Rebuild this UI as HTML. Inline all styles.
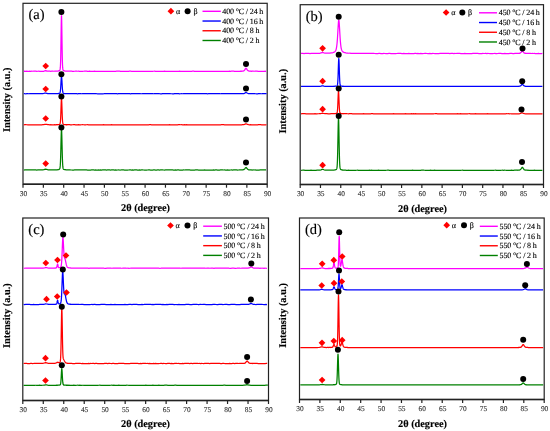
<!DOCTYPE html>
<html><head><meta charset="utf-8"><style>
html,body{margin:0;padding:0;background:#fff;}
svg{display:block;font-family:"Liberation Serif",serif;will-change:transform;}
text{text-rendering:geometricPrecision;}
</style></head><body>
<svg width="550" height="431" viewBox="0 0 550 431">
<rect width="550" height="431" fill="#fff"/>
<rect x="23" y="3.3" width="244.2" height="180.9" fill="none" stroke="#222" stroke-width="1.2"/>
<line x1="23" y1="184.2" x2="267.2" y2="184.2" stroke="#222" stroke-width="1.6"/>
<line x1="23" y1="184.2" x2="23" y2="187.7" stroke="#222" stroke-width="1.2"/>
<text x="23.4" y="195.8" font-size="7.4" text-anchor="middle" font-weight="normal" fill="#333" stroke="#333" stroke-width="0.12">30</text>
<line x1="43.35" y1="184.2" x2="43.35" y2="187.7" stroke="#222" stroke-width="1.2"/>
<text x="43.75" y="195.8" font-size="7.4" text-anchor="middle" font-weight="normal" fill="#333" stroke="#333" stroke-width="0.12">35</text>
<line x1="63.7" y1="184.2" x2="63.7" y2="187.7" stroke="#222" stroke-width="1.2"/>
<text x="64.1" y="195.8" font-size="7.4" text-anchor="middle" font-weight="normal" fill="#333" stroke="#333" stroke-width="0.12">40</text>
<line x1="84.05" y1="184.2" x2="84.05" y2="187.7" stroke="#222" stroke-width="1.2"/>
<text x="84.45" y="195.8" font-size="7.4" text-anchor="middle" font-weight="normal" fill="#333" stroke="#333" stroke-width="0.12">45</text>
<line x1="104.4" y1="184.2" x2="104.4" y2="187.7" stroke="#222" stroke-width="1.2"/>
<text x="104.8" y="195.8" font-size="7.4" text-anchor="middle" font-weight="normal" fill="#333" stroke="#333" stroke-width="0.12">50</text>
<line x1="124.75" y1="184.2" x2="124.75" y2="187.7" stroke="#222" stroke-width="1.2"/>
<text x="125.15" y="195.8" font-size="7.4" text-anchor="middle" font-weight="normal" fill="#333" stroke="#333" stroke-width="0.12">55</text>
<line x1="145.1" y1="184.2" x2="145.1" y2="187.7" stroke="#222" stroke-width="1.2"/>
<text x="145.5" y="195.8" font-size="7.4" text-anchor="middle" font-weight="normal" fill="#333" stroke="#333" stroke-width="0.12">60</text>
<line x1="165.45" y1="184.2" x2="165.45" y2="187.7" stroke="#222" stroke-width="1.2"/>
<text x="165.85" y="195.8" font-size="7.4" text-anchor="middle" font-weight="normal" fill="#333" stroke="#333" stroke-width="0.12">65</text>
<line x1="185.8" y1="184.2" x2="185.8" y2="187.7" stroke="#222" stroke-width="1.2"/>
<text x="186.2" y="195.8" font-size="7.4" text-anchor="middle" font-weight="normal" fill="#333" stroke="#333" stroke-width="0.12">70</text>
<line x1="206.15" y1="184.2" x2="206.15" y2="187.7" stroke="#222" stroke-width="1.2"/>
<text x="206.55" y="195.8" font-size="7.4" text-anchor="middle" font-weight="normal" fill="#333" stroke="#333" stroke-width="0.12">75</text>
<line x1="226.5" y1="184.2" x2="226.5" y2="187.7" stroke="#222" stroke-width="1.2"/>
<text x="226.9" y="195.8" font-size="7.4" text-anchor="middle" font-weight="normal" fill="#333" stroke="#333" stroke-width="0.12">80</text>
<line x1="246.85" y1="184.2" x2="246.85" y2="187.7" stroke="#222" stroke-width="1.2"/>
<text x="247.25" y="195.8" font-size="7.4" text-anchor="middle" font-weight="normal" fill="#333" stroke="#333" stroke-width="0.12">85</text>
<line x1="267.2" y1="184.2" x2="267.2" y2="187.7" stroke="#222" stroke-width="1.2"/>
<text x="267.6" y="195.8" font-size="7.4" text-anchor="middle" font-weight="normal" fill="#333" stroke="#333" stroke-width="0.12">90</text>
<text x="28.5" y="18.7" font-size="14.5" text-anchor="start" font-weight="normal" stroke="#000" stroke-width="0.15">(a)</text>
<path d="M170.9 7.85 L174.25 11.2 L170.9 14.55 L167.55 11.2Z" fill="#ff0000"/>
<text x="176" y="13.6" font-size="8" text-anchor="start" font-weight="normal" stroke="#000" stroke-width="0.12">α</text>
<circle cx="187.6" cy="11.2" r="3" fill="#000"/>
<text x="193.4" y="13.6" font-size="8" text-anchor="start" font-weight="normal" stroke="#000" stroke-width="0.12">β</text>
<line x1="202.5" y1="11.3" x2="220.8" y2="11.3" stroke="#ff00ff" stroke-width="1.4"/>
<text x="222.3" y="13.9" font-size="8" text-anchor="start" font-weight="normal" letter-spacing="-0.14" text-rendering="geometricPrecision" stroke="#000" stroke-width="0.12">400 °C / 24 h</text>
<line x1="202.5" y1="21.03" x2="220.8" y2="21.03" stroke="#0000ff" stroke-width="1.4"/>
<text x="222.3" y="23.63" font-size="8" text-anchor="start" font-weight="normal" letter-spacing="-0.14" text-rendering="geometricPrecision" stroke="#000" stroke-width="0.12">400 °C / 16 h</text>
<line x1="202.5" y1="30.76" x2="220.8" y2="30.76" stroke="#ff0000" stroke-width="1.4"/>
<text x="222.3" y="33.36" font-size="8" text-anchor="start" font-weight="normal" letter-spacing="-0.14" text-rendering="geometricPrecision" stroke="#000" stroke-width="0.12">400 °C / 8 h</text>
<line x1="202.5" y1="40.49" x2="220.8" y2="40.49" stroke="#008000" stroke-width="1.4"/>
<text x="222.3" y="43.09" font-size="8" text-anchor="start" font-weight="normal" letter-spacing="-0.14" text-rendering="geometricPrecision" stroke="#000" stroke-width="0.12">400 °C / 2 h</text>
<text x="9.8" y="99.8" font-size="10.35" font-weight="bold" stroke="#000" stroke-width="0.15" text-anchor="middle" transform="rotate(-90 9.8 99.8)">Intensity (a.u.)</text>
<text x="145.5" y="210.5" font-size="10.3" text-anchor="middle" font-weight="bold" stroke="#000" stroke-width="0.15">2θ (degree)</text>
<path d="M23.8 71.28 L24.8 71.24 L25.8 71.29 L26.8 71.24 L27.8 71.27 L28.8 71.27 L29.8 71.23 L30.8 71.26 L31.8 71.22 L32.8 71.25 L33.8 71.22 L34.8 71.21 L35.8 71.24 L36.8 71.3 L37.8 71.25 L38.8 71.24 L39.8 71.27 L40.8 71.33 L41.8 71.31 L42.8 71.26 L43.8 71.26 L44.8 70.87 L45.8 70.65 L46.8 71.05 L47.8 71.18 L48.8 71.18 L49.8 71.2 L50.8 71.27 L51.8 71.22 L52.8 71.24 L53.8 71.25 L54.8 71.22 L55.8 71.2 L55.92 71.14 L56.04 71.11 L56.16 71.11 L56.28 71.16 L56.4 71.16 L56.52 71.14 L56.64 71.16 L56.76 71.15 L56.88 71.12 L57 71.16 L57.12 71.16 L57.24 71.11 L57.36 71.11 L57.48 71.1 L57.6 71.13 L57.72 71.13 L57.84 71.06 L57.96 71.1 L58.08 71.01 L58.2 70.99 L58.32 71.01 L58.44 70.93 L58.56 70.92 L58.68 70.84 L58.8 70.86 L58.92 70.85 L59.04 70.81 L59.16 70.79 L59.28 70.68 L59.4 70.63 L59.52 70.54 L59.64 70.44 L59.76 70.29 L59.88 70.13 L60 69.88 L60.12 69.36 L60.24 68.57 L60.36 67.17 L60.48 65.08 L60.6 61.82 L60.72 57.19 L60.84 50.97 L60.96 43.31 L61.08 34.86 L61.2 26.58 L61.32 19.69 L61.44 15.79 L61.56 15.76 L61.68 19.67 L61.8 26.48 L61.92 34.85 L62.04 43.25 L62.16 50.85 L62.28 57.08 L62.4 61.83 L62.52 65.03 L62.64 67.18 L62.76 68.53 L62.88 69.37 L63 69.86 L63.12 70.17 L63.24 70.29 L63.36 70.41 L63.48 70.5 L63.6 70.64 L63.72 70.75 L63.84 70.73 L63.96 70.74 L64.08 70.78 L64.2 70.81 L64.32 70.87 L64.44 70.93 L64.56 70.93 L64.68 70.91 L64.8 70.96 L64.92 70.99 L65.04 71.03 L65.16 71.11 L65.28 71.12 L65.4 71.11 L65.52 71.13 L65.64 71.15 L65.76 71.09 L65.88 71.16 L66 71.19 L66.12 71.22 L66.24 71.23 L66.36 71.18 L66.48 71.17 L66.6 71.13 L66.72 71.17 L66.84 71.13 L66.96 71.11 L67.08 71.12 L67.2 71.12 L67.32 71.15 L67.44 71.12 L67.56 71.11 L68.56 71.14 L69.56 71.16 L70.56 71.2 L71.56 71.18 L72.56 71.27 L73.56 71.29 L74.56 71.25 L75.56 71.24 L76.56 71.24 L77.56 71.25 L78.56 71.22 L79.56 71.3 L80.56 71.35 L81.56 71.32 L82.56 71.3 L83.56 71.25 L84.56 71.22 L85.56 71.24 L86.56 71.24 L87.56 71.31 L88.56 71.26 L89.56 71.22 L90.56 71.31 L91.56 71.31 L92.56 71.26 L93.56 71.28 L94.56 71.23 L95.56 71.27 L96.56 71.34 L97.56 71.36 L98.56 71.35 L99.56 71.3 L100.56 71.28 L101.56 71.25 L102.56 71.31 L103.56 71.31 L104.56 71.34 L105.56 71.3 L106.56 71.26 L107.56 71.32 L108.56 71.37 L109.56 71.37 L110.56 71.37 L111.56 71.37 L112.56 71.37 L113.56 71.3 L114.56 71.3 L115.56 71.28 L116.56 71.23 L117.56 71.21 L118.56 71.23 L119.56 71.23 L120.56 71.29 L121.56 71.35 L122.56 71.32 L123.56 71.36 L124.56 71.39 L125.56 71.4 L126.56 71.33 L127.56 71.28 L128.56 71.26 L129.56 71.24 L130.56 71.24 L131.56 71.28 L132.56 71.34 L133.56 71.36 L134.56 71.33 L135.56 71.33 L136.56 71.35 L137.56 71.28 L138.56 71.31 L139.56 71.35 L140.56 71.36 L141.56 71.36 L142.56 71.33 L143.56 71.27 L144.56 71.32 L145.56 71.29 L146.56 71.33 L147.56 71.37 L148.56 71.32 L149.56 71.3 L150.56 71.35 L151.56 71.35 L152.56 71.29 L153.56 71.25 L154.56 71.23 L155.56 71.31 L156.56 71.34 L157.56 71.28 L158.56 71.33 L159.56 71.37 L160.56 71.35 L161.56 71.31 L162.56 71.31 L163.56 71.26 L164.56 71.22 L165.56 71.32 L166.56 71.33 L167.56 71.32 L168.56 71.36 L169.56 71.32 L170.56 71.36 L171.56 71.37 L172.56 71.3 L173.56 71.27 L174.56 71.26 L175.56 71.25 L176.56 71.28 L177.56 71.26 L178.56 71.27 L179.56 71.24 L180.56 71.32 L181.56 71.29 L182.56 71.29 L183.56 71.3 L184.56 71.35 L185.56 71.32 L186.56 71.36 L187.56 71.33 L188.56 71.32 L189.56 71.31 L190.56 71.25 L191.56 71.27 L192.56 71.24 L193.56 71.21 L194.56 71.29 L195.56 71.26 L196.56 71.27 L197.56 71.31 L198.56 71.31 L199.56 71.28 L200.56 71.29 L201.56 71.3 L202.56 71.33 L203.56 71.27 L204.56 71.29 L205.56 71.26 L206.56 71.25 L207.56 71.31 L208.56 71.3 L209.56 71.31 L210.56 71.33 L211.56 71.37 L212.56 71.32 L213.56 71.32 L214.56 71.31 L215.56 71.31 L216.56 71.32 L217.56 71.31 L218.56 71.3 L219.56 71.3 L220.56 71.35 L221.56 71.35 L222.56 71.37 L223.56 71.38 L224.56 71.31 L225.56 71.31 L226.56 71.35 L227.56 71.36 L228.56 71.28 L229.56 71.24 L230.56 71.26 L231.56 71.22 L232.56 71.22 L233.56 71.2 L234.56 71.26 L235.56 71.3 L236.56 71.34 L237.56 71.26 L238.56 71.28 L239.56 71.28 L240.56 71.2 L240.68 71.26 L240.8 71.3 L240.92 71.22 L241.04 71.27 L241.16 71.23 L241.28 71.22 L241.4 71.27 L241.52 71.27 L241.64 71.19 L241.76 71.18 L241.88 71.18 L242 71.15 L242.12 71.12 L242.24 71.11 L242.36 71.15 L242.48 71.08 L242.6 71.11 L242.72 71.1 L242.84 71.03 L242.96 71.03 L243.08 71.05 L243.2 71.03 L243.32 70.95 L243.44 71 L243.56 70.97 L243.68 70.95 L243.8 70.8 L243.92 70.71 L244.04 70.58 L244.16 70.56 L244.28 70.42 L244.4 70.26 L244.52 70.14 L244.64 70.06 L244.76 69.91 L244.88 69.68 L245 69.44 L245.12 69.32 L245.24 69.12 L245.36 68.94 L245.48 68.69 L245.6 68.49 L245.72 68.42 L245.84 68.33 L245.96 68.24 L246.08 68.33 L246.2 68.4 L246.32 68.52 L246.44 68.59 L246.56 68.81 L246.68 68.93 L246.8 69.18 L246.92 69.36 L247.04 69.54 L247.16 69.74 L247.28 69.97 L247.4 70.08 L247.52 70.18 L247.64 70.35 L247.76 70.44 L247.88 70.52 L248 70.61 L248.12 70.67 L248.24 70.75 L248.36 70.83 L248.48 70.88 L248.6 70.98 L248.72 70.99 L248.84 71.03 L248.96 71.02 L249.08 71.05 L249.2 71.03 L249.32 71.05 L249.44 71.04 L249.56 71.13 L249.68 71.15 L249.8 71.12 L249.92 71.15 L250.04 71.22 L250.16 71.16 L250.28 71.22 L250.4 71.2 L250.52 71.2 L250.64 71.25 L250.76 71.22 L250.88 71.22 L251 71.24 L251.12 71.29 L251.24 71.24 L251.36 71.28 L251.48 71.28 L251.6 71.27 L251.72 71.25 L251.84 71.23 L251.96 71.18 L252.08 71.17 L253.08 71.17 L254.08 71.25 L255.08 71.24 L256.08 71.22 L257.08 71.2 L258.08 71.29 L259.08 71.33 L260.08 71.33 L261.08 71.29 L262.08 71.26 L263.08 71.25 L264.08 71.27 L265.08 71.24 L266.08 71.26" fill="none" stroke="#ff00ff" stroke-width="1.25" stroke-linejoin="round"/>
<path d="M23.8 93.67 L24.8 93.74 L25.8 93.77 L26.8 93.74 L27.8 93.69 L28.8 93.75 L29.8 93.7 L30.8 93.68 L31.8 93.63 L32.8 93.65 L33.8 93.67 L34.8 93.68 L35.8 93.65 L36.8 93.67 L37.8 93.62 L38.8 93.62 L39.8 93.6 L40.8 93.62 L41.8 93.58 L42.8 93.52 L43.8 93.43 L44.8 93.23 L45.8 93.18 L46.8 93.37 L47.8 93.58 L48.8 93.67 L49.8 93.7 L50.8 93.73 L51.8 93.69 L52.8 93.66 L53.8 93.72 L54.8 93.64 L55.8 93.67 L55.92 93.67 L56.04 93.6 L56.16 93.66 L56.28 93.7 L56.4 93.68 L56.52 93.68 L56.64 93.69 L56.76 93.62 L56.88 93.62 L57 93.62 L57.12 93.66 L57.24 93.67 L57.36 93.68 L57.48 93.65 L57.6 93.67 L57.72 93.65 L57.84 93.64 L57.96 93.57 L58.08 93.51 L58.2 93.49 L58.32 93.5 L58.44 93.47 L58.56 93.53 L58.68 93.52 L58.8 93.52 L58.92 93.51 L59.04 93.5 L59.16 93.45 L59.28 93.36 L59.4 93.38 L59.52 93.35 L59.64 93.27 L59.76 93.16 L59.88 93.01 L60 92.7 L60.12 92.38 L60.24 91.8 L60.36 90.98 L60.48 89.93 L60.6 88.61 L60.72 86.88 L60.84 84.96 L60.96 82.86 L61.08 80.66 L61.2 78.67 L61.32 77.14 L61.44 76.33 L61.56 76.35 L61.68 77.18 L61.8 78.7 L61.92 80.6 L62.04 82.74 L62.16 84.89 L62.28 86.92 L62.4 88.59 L62.52 89.99 L62.64 90.99 L62.76 91.74 L62.88 92.3 L63 92.73 L63.12 93 L63.24 93.17 L63.36 93.24 L63.48 93.32 L63.6 93.37 L63.72 93.4 L63.84 93.39 L63.96 93.48 L64.08 93.46 L64.2 93.55 L64.32 93.59 L64.44 93.51 L64.56 93.53 L64.68 93.58 L64.8 93.64 L64.92 93.6 L65.04 93.57 L65.16 93.55 L65.28 93.63 L65.4 93.58 L65.52 93.61 L65.64 93.57 L65.76 93.6 L65.88 93.67 L66 93.6 L66.12 93.66 L66.24 93.65 L66.36 93.69 L66.48 93.69 L66.6 93.63 L66.72 93.69 L66.84 93.67 L66.96 93.6 L67.08 93.57 L67.2 93.61 L67.32 93.63 L67.44 93.62 L67.56 93.6 L68.56 93.62 L69.56 93.63 L70.56 93.7 L71.56 93.63 L72.56 93.69 L73.56 93.73 L74.56 93.67 L75.56 93.73 L76.56 93.74 L77.56 93.76 L78.56 93.7 L79.56 93.68 L80.56 93.68 L81.56 93.75 L82.56 93.73 L83.56 93.7 L84.56 93.69 L85.56 93.67 L86.56 93.63 L87.56 93.61 L88.56 93.7 L89.56 93.67 L90.56 93.74 L91.56 93.69 L92.56 93.66 L93.56 93.68 L94.56 93.65 L95.56 93.66 L96.56 93.73 L97.56 93.76 L98.56 93.77 L99.56 93.75 L100.56 93.77 L101.56 93.79 L102.56 93.75 L103.56 93.75 L104.56 93.67 L105.56 93.71 L106.56 93.7 L107.56 93.73 L108.56 93.73 L109.56 93.69 L110.56 93.64 L111.56 93.72 L112.56 93.67 L113.56 93.68 L114.56 93.67 L115.56 93.66 L116.56 93.71 L117.56 93.76 L118.56 93.7 L119.56 93.72 L120.56 93.69 L121.56 93.7 L122.56 93.69 L123.56 93.65 L124.56 93.64 L125.56 93.63 L126.56 93.71 L127.56 93.71 L128.56 93.67 L129.56 93.73 L130.56 93.78 L131.56 93.73 L132.56 93.67 L133.56 93.65 L134.56 93.63 L135.56 93.64 L136.56 93.62 L137.56 93.63 L138.56 93.64 L139.56 93.68 L140.56 93.73 L141.56 93.75 L142.56 93.71 L143.56 93.7 L144.56 93.7 L145.56 93.69 L146.56 93.67 L147.56 93.63 L148.56 93.64 L149.56 93.73 L150.56 93.67 L151.56 93.68 L152.56 93.71 L153.56 93.75 L154.56 93.69 L155.56 93.67 L156.56 93.65 L157.56 93.66 L158.56 93.68 L159.56 93.74 L160.56 93.76 L161.56 93.78 L162.56 93.68 L163.56 93.63 L164.56 93.69 L165.56 93.74 L166.56 93.72 L167.56 93.72 L168.56 93.65 L169.56 93.66 L170.56 93.73 L171.56 93.75 L172.56 93.77 L173.56 93.79 L174.56 93.72 L175.56 93.66 L176.56 93.64 L177.56 93.67 L178.56 93.71 L179.56 93.76 L180.56 93.75 L181.56 93.74 L182.56 93.75 L183.56 93.72 L184.56 93.72 L185.56 93.65 L186.56 93.71 L187.56 93.67 L188.56 93.74 L189.56 93.74 L190.56 93.69 L191.56 93.65 L192.56 93.65 L193.56 93.69 L194.56 93.72 L195.56 93.66 L196.56 93.63 L197.56 93.67 L198.56 93.69 L199.56 93.68 L200.56 93.66 L201.56 93.69 L202.56 93.64 L203.56 93.64 L204.56 93.67 L205.56 93.74 L206.56 93.74 L207.56 93.76 L208.56 93.73 L209.56 93.68 L210.56 93.66 L211.56 93.73 L212.56 93.74 L213.56 93.7 L214.56 93.64 L215.56 93.67 L216.56 93.71 L217.56 93.69 L218.56 93.67 L219.56 93.7 L220.56 93.75 L221.56 93.69 L222.56 93.64 L223.56 93.65 L224.56 93.66 L225.56 93.7 L226.56 93.66 L227.56 93.72 L228.56 93.74 L229.56 93.72 L230.56 93.67 L231.56 93.74 L232.56 93.69 L233.56 93.73 L234.56 93.68 L235.56 93.65 L236.56 93.7 L237.56 93.67 L238.56 93.73 L239.56 93.7 L240.56 93.65 L241.56 93.61 L242.56 93.6 L243.56 93.55 L244.56 93.29 L245.56 92.61 L246.56 92.67 L247.56 93.25 L248.56 93.6 L249.56 93.61 L250.56 93.59 L251.56 93.59 L252.56 93.62 L253.56 93.71 L254.56 93.74 L255.56 93.75 L256.56 93.78 L257.56 93.79 L258.56 93.72 L259.56 93.67 L260.56 93.74 L261.56 93.75 L262.56 93.67 L263.56 93.7 L264.56 93.68 L265.56 93.68 L266.56 93.67" fill="none" stroke="#0000ff" stroke-width="1.25" stroke-linejoin="round"/>
<path d="M23.8 124.76 L24.8 124.72 L25.8 124.73 L26.8 124.75 L27.8 124.83 L28.8 124.77 L29.8 124.84 L30.8 124.78 L31.8 124.77 L32.8 124.82 L33.8 124.85 L34.8 124.81 L35.8 124.75 L36.8 124.76 L37.8 124.76 L38.8 124.82 L39.8 124.76 L40.8 124.75 L41.8 124.79 L42.8 124.68 L43.8 124.57 L44.8 124.42 L45.8 124.34 L46.8 124.44 L47.8 124.58 L48.8 124.64 L49.8 124.76 L50.8 124.74 L51.8 124.78 L52.8 124.82 L53.8 124.77 L54.8 124.73 L55.8 124.78 L55.92 124.77 L56.04 124.72 L56.16 124.75 L56.28 124.72 L56.4 124.69 L56.52 124.65 L56.64 124.71 L56.76 124.76 L56.88 124.75 L57 124.78 L57.12 124.68 L57.24 124.65 L57.36 124.66 L57.48 124.73 L57.6 124.75 L57.72 124.69 L57.84 124.64 L57.96 124.63 L58.08 124.63 L58.2 124.68 L58.32 124.6 L58.44 124.63 L58.56 124.63 L58.68 124.63 L58.8 124.61 L58.92 124.57 L59.04 124.51 L59.16 124.45 L59.28 124.41 L59.4 124.42 L59.52 124.31 L59.64 124.22 L59.76 124.19 L59.88 124.01 L60 123.74 L60.12 123.35 L60.24 122.82 L60.36 121.93 L60.48 120.69 L60.6 118.89 L60.72 116.51 L60.84 113.47 L60.96 110.02 L61.08 106.43 L61.2 103.11 L61.32 100.49 L61.44 98.99 L61.56 98.96 L61.68 100.46 L61.8 103.15 L61.92 106.52 L62.04 110.1 L62.16 113.52 L62.28 116.47 L62.4 118.81 L62.52 120.69 L62.64 121.96 L62.76 122.86 L62.88 123.43 L63 123.83 L63.12 124.01 L63.24 124.14 L63.36 124.23 L63.48 124.28 L63.6 124.41 L63.72 124.46 L63.84 124.46 L63.96 124.49 L64.08 124.58 L64.2 124.58 L64.32 124.55 L64.44 124.62 L64.56 124.64 L64.68 124.69 L64.8 124.62 L64.92 124.64 L65.04 124.69 L65.16 124.72 L65.28 124.75 L65.4 124.66 L65.52 124.65 L65.64 124.63 L65.76 124.63 L65.88 124.73 L66 124.73 L66.12 124.77 L66.24 124.73 L66.36 124.77 L66.48 124.74 L66.6 124.71 L66.72 124.75 L66.84 124.8 L66.96 124.72 L67.08 124.74 L67.2 124.76 L67.32 124.72 L67.44 124.72 L67.56 124.69 L68.56 124.7 L69.56 124.71 L70.56 124.76 L71.56 124.79 L72.56 124.75 L73.56 124.71 L74.56 124.73 L75.56 124.78 L76.56 124.75 L77.56 124.75 L78.56 124.74 L79.56 124.8 L80.56 124.8 L81.56 124.75 L82.56 124.72 L83.56 124.75 L84.56 124.78 L85.56 124.8 L86.56 124.75 L87.56 124.73 L88.56 124.79 L89.56 124.78 L90.56 124.76 L91.56 124.76 L92.56 124.83 L93.56 124.79 L94.56 124.8 L95.56 124.78 L96.56 124.78 L97.56 124.83 L98.56 124.88 L99.56 124.82 L100.56 124.77 L101.56 124.81 L102.56 124.77 L103.56 124.73 L104.56 124.81 L105.56 124.8 L106.56 124.84 L107.56 124.81 L108.56 124.85 L109.56 124.82 L110.56 124.77 L111.56 124.73 L112.56 124.77 L113.56 124.8 L114.56 124.85 L115.56 124.77 L116.56 124.8 L117.56 124.79 L118.56 124.79 L119.56 124.75 L120.56 124.75 L121.56 124.78 L122.56 124.84 L123.56 124.77 L124.56 124.78 L125.56 124.83 L126.56 124.87 L127.56 124.8 L128.56 124.75 L129.56 124.83 L130.56 124.87 L131.56 124.83 L132.56 124.76 L133.56 124.83 L134.56 124.8 L135.56 124.85 L136.56 124.84 L137.56 124.86 L138.56 124.79 L139.56 124.83 L140.56 124.78 L141.56 124.78 L142.56 124.83 L143.56 124.85 L144.56 124.79 L145.56 124.76 L146.56 124.77 L147.56 124.79 L148.56 124.78 L149.56 124.74 L150.56 124.74 L151.56 124.8 L152.56 124.85 L153.56 124.77 L154.56 124.79 L155.56 124.83 L156.56 124.76 L157.56 124.82 L158.56 124.76 L159.56 124.79 L160.56 124.8 L161.56 124.82 L162.56 124.78 L163.56 124.78 L164.56 124.8 L165.56 124.79 L166.56 124.81 L167.56 124.8 L168.56 124.79 L169.56 124.74 L170.56 124.78 L171.56 124.79 L172.56 124.76 L173.56 124.81 L174.56 124.84 L175.56 124.81 L176.56 124.77 L177.56 124.78 L178.56 124.74 L179.56 124.73 L180.56 124.75 L181.56 124.73 L182.56 124.76 L183.56 124.78 L184.56 124.73 L185.56 124.78 L186.56 124.74 L187.56 124.8 L188.56 124.83 L189.56 124.82 L190.56 124.76 L191.56 124.78 L192.56 124.77 L193.56 124.84 L194.56 124.78 L195.56 124.83 L196.56 124.87 L197.56 124.87 L198.56 124.87 L199.56 124.8 L200.56 124.86 L201.56 124.83 L202.56 124.87 L203.56 124.88 L204.56 124.8 L205.56 124.84 L206.56 124.87 L207.56 124.78 L208.56 124.77 L209.56 124.82 L210.56 124.77 L211.56 124.83 L212.56 124.79 L213.56 124.83 L214.56 124.77 L215.56 124.79 L216.56 124.84 L217.56 124.79 L218.56 124.76 L219.56 124.78 L220.56 124.77 L221.56 124.73 L222.56 124.73 L223.56 124.72 L224.56 124.81 L225.56 124.83 L226.56 124.86 L227.56 124.79 L228.56 124.83 L229.56 124.77 L230.56 124.78 L231.56 124.81 L232.56 124.78 L233.56 124.83 L234.56 124.82 L235.56 124.82 L236.56 124.85 L237.56 124.77 L238.56 124.84 L239.56 124.82 L240.56 124.78 L241.56 124.81 L242.56 124.74 L243.56 124.73 L244.56 124.45 L245.56 123.91 L246.56 123.99 L247.56 124.47 L248.56 124.65 L249.56 124.76 L250.56 124.72 L251.56 124.79 L252.56 124.76 L253.56 124.79 L254.56 124.85 L255.56 124.83 L256.56 124.83 L257.56 124.79 L258.56 124.73 L259.56 124.71 L260.56 124.71 L261.56 124.77 L262.56 124.77 L263.56 124.79 L264.56 124.84 L265.56 124.78 L266.56 124.75" fill="none" stroke="#ff0000" stroke-width="1.25" stroke-linejoin="round"/>
<path d="M23.8 170.01 L24.8 169.95 L25.8 169.91 L26.8 169.94 L27.8 169.92 L28.8 169.94 L29.8 169.93 L30.8 169.97 L31.8 169.99 L32.8 169.96 L33.8 169.99 L34.8 169.98 L35.8 169.94 L36.8 170.01 L37.8 169.96 L38.8 169.92 L39.8 169.89 L40.8 169.94 L41.8 169.97 L42.8 169.92 L43.8 169.69 L44.8 169.33 L45.8 169.13 L46.8 169.47 L47.8 169.76 L48.8 169.87 L49.8 169.94 L50.8 169.94 L51.8 169.99 L52.8 169.99 L53.8 169.92 L54.8 169.96 L55.8 169.85 L55.92 169.87 L56.04 169.86 L56.16 169.83 L56.28 169.79 L56.4 169.86 L56.52 169.79 L56.64 169.82 L56.76 169.88 L56.88 169.81 L57 169.78 L57.12 169.8 L57.24 169.8 L57.36 169.81 L57.48 169.83 L57.6 169.75 L57.72 169.72 L57.84 169.7 L57.96 169.65 L58.08 169.71 L58.2 169.72 L58.32 169.71 L58.44 169.6 L58.56 169.63 L58.68 169.61 L58.8 169.55 L58.92 169.53 L59.04 169.46 L59.16 169.37 L59.28 169.26 L59.4 169.18 L59.52 169.04 L59.64 168.89 L59.76 168.71 L59.88 168.37 L60 167.83 L60.12 166.97 L60.24 165.66 L60.36 163.87 L60.48 161.41 L60.6 158.27 L60.72 154.33 L60.84 149.73 L60.96 144.78 L61.08 139.82 L61.2 135.2 L61.32 131.73 L61.44 129.71 L61.56 129.7 L61.68 131.63 L61.8 135.21 L61.92 139.82 L62.04 144.83 L62.16 149.75 L62.28 154.36 L62.4 158.24 L62.52 161.39 L62.64 163.9 L62.76 165.7 L62.88 166.96 L63 167.82 L63.12 168.42 L63.24 168.75 L63.36 169.02 L63.48 169.18 L63.6 169.31 L63.72 169.35 L63.84 169.44 L63.96 169.48 L64.08 169.49 L64.2 169.5 L64.32 169.57 L64.44 169.56 L64.56 169.66 L64.68 169.63 L64.8 169.61 L64.92 169.62 L65.04 169.74 L65.16 169.73 L65.28 169.71 L65.4 169.69 L65.52 169.69 L65.64 169.77 L65.76 169.81 L65.88 169.84 L66 169.87 L66.12 169.8 L66.24 169.84 L66.36 169.83 L66.48 169.89 L66.6 169.92 L66.72 169.94 L66.84 169.86 L66.96 169.92 L67.08 169.95 L67.2 169.98 L67.32 169.89 L67.44 169.86 L67.56 169.84 L68.56 169.84 L69.56 169.94 L70.56 169.99 L71.56 170 L72.56 170.03 L73.56 170.02 L74.56 169.97 L75.56 169.93 L76.56 169.91 L77.56 169.98 L78.56 169.95 L79.56 169.95 L80.56 169.96 L81.56 169.92 L82.56 169.93 L83.56 169.93 L84.56 169.99 L85.56 169.98 L86.56 169.96 L87.56 170.03 L88.56 170.02 L89.56 170.05 L90.56 170.04 L91.56 169.96 L92.56 169.97 L93.56 169.97 L94.56 170.02 L95.56 169.99 L96.56 170.02 L97.56 170.01 L98.56 169.97 L99.56 170.03 L100.56 169.96 L101.56 170.02 L102.56 169.97 L103.56 169.92 L104.56 169.92 L105.56 169.99 L106.56 170.05 L107.56 169.97 L108.56 169.98 L109.56 169.99 L110.56 170.03 L111.56 169.98 L112.56 169.99 L113.56 169.97 L114.56 170.03 L115.56 169.98 L116.56 170.04 L117.56 170 L118.56 169.96 L119.56 170 L120.56 170 L121.56 169.95 L122.56 169.99 L123.56 169.95 L124.56 170.01 L125.56 170.03 L126.56 170.05 L127.56 170.04 L128.56 170 L129.56 169.99 L130.56 169.98 L131.56 170.04 L132.56 169.97 L133.56 170.03 L134.56 169.96 L135.56 169.94 L136.56 169.94 L137.56 170.02 L138.56 170.01 L139.56 169.99 L140.56 170.04 L141.56 169.99 L142.56 169.99 L143.56 170 L144.56 170.03 L145.56 170.04 L146.56 170.04 L147.56 170 L148.56 169.98 L149.56 169.95 L150.56 170.01 L151.56 170.03 L152.56 170.04 L153.56 169.98 L154.56 169.98 L155.56 170.02 L156.56 170.02 L157.56 169.97 L158.56 169.98 L159.56 170.03 L160.56 169.99 L161.56 169.96 L162.56 169.95 L163.56 170 L164.56 170.04 L165.56 169.98 L166.56 169.95 L167.56 169.94 L168.56 169.95 L169.56 169.98 L170.56 169.95 L171.56 169.95 L172.56 169.94 L173.56 170.03 L174.56 170.04 L175.56 169.97 L176.56 170.04 L177.56 169.97 L178.56 169.97 L179.56 170.04 L180.56 170.06 L181.56 170.06 L182.56 170.02 L183.56 169.97 L184.56 170 L185.56 169.95 L186.56 169.94 L187.56 169.96 L188.56 169.92 L189.56 169.95 L190.56 170.01 L191.56 170.03 L192.56 170.01 L193.56 170.02 L194.56 170.01 L195.56 169.96 L196.56 169.99 L197.56 169.98 L198.56 170.02 L199.56 170.06 L200.56 170.02 L201.56 170.02 L202.56 170.04 L203.56 170.01 L204.56 169.97 L205.56 170.01 L206.56 170.05 L207.56 170.06 L208.56 170.05 L209.56 170.07 L210.56 170.05 L211.56 170.04 L212.56 170.02 L213.56 169.98 L214.56 170.01 L215.56 169.95 L216.56 169.97 L217.56 170.02 L218.56 170.03 L219.56 170.03 L220.56 169.98 L221.56 169.98 L222.56 169.98 L223.56 170 L224.56 169.99 L225.56 170.01 L226.56 170.06 L227.56 169.99 L228.56 170.01 L229.56 170.03 L230.56 170 L231.56 169.99 L232.56 170.05 L233.56 169.96 L234.56 169.98 L235.56 169.94 L236.56 169.99 L237.56 170.03 L238.56 170 L239.56 169.93 L240.56 169.93 L240.68 169.94 L240.8 169.96 L240.92 169.95 L241.04 169.95 L241.16 169.98 L241.28 169.95 L241.4 169.92 L241.52 169.97 L241.64 169.9 L241.76 169.93 L241.88 169.9 L242 169.93 L242.12 169.86 L242.24 169.93 L242.36 169.88 L242.48 169.82 L242.6 169.8 L242.72 169.81 L242.84 169.75 L242.96 169.77 L243.08 169.76 L243.2 169.78 L243.32 169.74 L243.44 169.69 L243.56 169.63 L243.68 169.65 L243.8 169.65 L243.92 169.56 L244.04 169.44 L244.16 169.41 L244.28 169.29 L244.4 169.15 L244.52 169.01 L244.64 168.94 L244.76 168.84 L244.88 168.68 L245 168.5 L245.12 168.34 L245.24 168.14 L245.36 168.04 L245.48 167.85 L245.6 167.74 L245.72 167.66 L245.84 167.6 L245.96 167.53 L246.08 167.5 L246.2 167.56 L246.32 167.6 L246.44 167.78 L246.56 167.89 L246.68 168.09 L246.8 168.21 L246.92 168.36 L247.04 168.5 L247.16 168.67 L247.28 168.8 L247.4 168.9 L247.52 169.09 L247.64 169.19 L247.76 169.27 L247.88 169.36 L248 169.46 L248.12 169.53 L248.24 169.62 L248.36 169.68 L248.48 169.69 L248.6 169.78 L248.72 169.83 L248.84 169.77 L248.96 169.83 L249.08 169.89 L249.2 169.9 L249.32 169.84 L249.44 169.89 L249.56 169.9 L249.68 169.84 L249.8 169.81 L249.92 169.91 L250.04 169.92 L250.16 169.89 L250.28 169.85 L250.4 169.84 L250.52 169.85 L250.64 169.92 L250.76 169.91 L250.88 169.88 L251 169.95 L251.12 169.98 L251.24 169.92 L251.36 169.98 L251.48 169.98 L251.6 169.99 L251.72 169.99 L251.84 170.02 L251.96 170.02 L252.08 170.03 L253.08 169.97 L254.08 170 L255.08 169.99 L256.08 170.02 L257.08 170 L258.08 170.04 L259.08 170.02 L260.08 169.98 L261.08 169.95 L262.08 169.93 L263.08 169.96 L264.08 169.93 L265.08 169.96 L266.08 169.93" fill="none" stroke="#008000" stroke-width="1.25" stroke-linejoin="round"/>
<path d="M45.7 62.65 L49.05 66 L45.7 69.35 L42.35 66Z" fill="#ff0000"/>
<path d="M45.7 85.65 L49.05 89 L45.7 92.35 L42.35 89Z" fill="#ff0000"/>
<path d="M45.7 115.15 L49.05 118.5 L45.7 121.85 L42.35 118.5Z" fill="#ff0000"/>
<path d="M45.7 160.25 L49.05 163.6 L45.7 166.95 L42.35 163.6Z" fill="#ff0000"/>
<circle cx="61.4" cy="12" r="3" fill="#000"/>
<circle cx="61.4" cy="74.3" r="3" fill="#000"/>
<circle cx="61.4" cy="96.5" r="3" fill="#000"/>
<circle cx="61.4" cy="127.4" r="3" fill="#000"/>
<circle cx="246" cy="64" r="3" fill="#000"/>
<circle cx="246" cy="88.5" r="3" fill="#000"/>
<circle cx="246" cy="119.5" r="3" fill="#000"/>
<circle cx="246" cy="162.5" r="3" fill="#000"/>
<rect x="300.2" y="4.7" width="243.3" height="179.8" fill="none" stroke="#222" stroke-width="1.2"/>
<line x1="300.2" y1="184.5" x2="543.5" y2="184.5" stroke="#222" stroke-width="1.6"/>
<line x1="300.2" y1="184.5" x2="300.2" y2="188" stroke="#222" stroke-width="1.2"/>
<text x="300.6" y="196.3" font-size="7.4" text-anchor="middle" font-weight="normal" fill="#333" stroke="#333" stroke-width="0.12">30</text>
<line x1="320.47" y1="184.5" x2="320.47" y2="188" stroke="#222" stroke-width="1.2"/>
<text x="320.87" y="196.3" font-size="7.4" text-anchor="middle" font-weight="normal" fill="#333" stroke="#333" stroke-width="0.12">35</text>
<line x1="340.75" y1="184.5" x2="340.75" y2="188" stroke="#222" stroke-width="1.2"/>
<text x="341.15" y="196.3" font-size="7.4" text-anchor="middle" font-weight="normal" fill="#333" stroke="#333" stroke-width="0.12">40</text>
<line x1="361.02" y1="184.5" x2="361.02" y2="188" stroke="#222" stroke-width="1.2"/>
<text x="361.42" y="196.3" font-size="7.4" text-anchor="middle" font-weight="normal" fill="#333" stroke="#333" stroke-width="0.12">45</text>
<line x1="381.3" y1="184.5" x2="381.3" y2="188" stroke="#222" stroke-width="1.2"/>
<text x="381.7" y="196.3" font-size="7.4" text-anchor="middle" font-weight="normal" fill="#333" stroke="#333" stroke-width="0.12">50</text>
<line x1="401.57" y1="184.5" x2="401.57" y2="188" stroke="#222" stroke-width="1.2"/>
<text x="401.97" y="196.3" font-size="7.4" text-anchor="middle" font-weight="normal" fill="#333" stroke="#333" stroke-width="0.12">55</text>
<line x1="421.85" y1="184.5" x2="421.85" y2="188" stroke="#222" stroke-width="1.2"/>
<text x="422.25" y="196.3" font-size="7.4" text-anchor="middle" font-weight="normal" fill="#333" stroke="#333" stroke-width="0.12">60</text>
<line x1="442.12" y1="184.5" x2="442.12" y2="188" stroke="#222" stroke-width="1.2"/>
<text x="442.52" y="196.3" font-size="7.4" text-anchor="middle" font-weight="normal" fill="#333" stroke="#333" stroke-width="0.12">65</text>
<line x1="462.4" y1="184.5" x2="462.4" y2="188" stroke="#222" stroke-width="1.2"/>
<text x="462.8" y="196.3" font-size="7.4" text-anchor="middle" font-weight="normal" fill="#333" stroke="#333" stroke-width="0.12">70</text>
<line x1="482.68" y1="184.5" x2="482.68" y2="188" stroke="#222" stroke-width="1.2"/>
<text x="483.07" y="196.3" font-size="7.4" text-anchor="middle" font-weight="normal" fill="#333" stroke="#333" stroke-width="0.12">75</text>
<line x1="502.95" y1="184.5" x2="502.95" y2="188" stroke="#222" stroke-width="1.2"/>
<text x="503.35" y="196.3" font-size="7.4" text-anchor="middle" font-weight="normal" fill="#333" stroke="#333" stroke-width="0.12">80</text>
<line x1="523.23" y1="184.5" x2="523.23" y2="188" stroke="#222" stroke-width="1.2"/>
<text x="523.62" y="196.3" font-size="7.4" text-anchor="middle" font-weight="normal" fill="#333" stroke="#333" stroke-width="0.12">85</text>
<line x1="543.5" y1="184.5" x2="543.5" y2="188" stroke="#222" stroke-width="1.2"/>
<text x="543.9" y="196.3" font-size="7.4" text-anchor="middle" font-weight="normal" fill="#333" stroke="#333" stroke-width="0.12">90</text>
<text x="305.7" y="21.3" font-size="14.5" text-anchor="start" font-weight="normal" stroke="#000" stroke-width="0.15">(b)</text>
<path d="M446.1 9.15 L449.45 12.5 L446.1 15.85 L442.75 12.5Z" fill="#ff0000"/>
<text x="451.2" y="14.9" font-size="8" text-anchor="start" font-weight="normal" stroke="#000" stroke-width="0.12">α</text>
<circle cx="462.3" cy="12.5" r="3" fill="#000"/>
<text x="468.1" y="14.9" font-size="8" text-anchor="start" font-weight="normal" stroke="#000" stroke-width="0.12">β</text>
<line x1="479" y1="12.8" x2="497" y2="12.8" stroke="#ff00ff" stroke-width="1.4"/>
<text x="498.8" y="15.4" font-size="8" text-anchor="start" font-weight="normal" letter-spacing="-0.14" text-rendering="geometricPrecision" stroke="#000" stroke-width="0.12">450 °C / 24 h</text>
<line x1="479" y1="22.53" x2="497" y2="22.53" stroke="#0000ff" stroke-width="1.4"/>
<text x="498.8" y="25.13" font-size="8" text-anchor="start" font-weight="normal" letter-spacing="-0.14" text-rendering="geometricPrecision" stroke="#000" stroke-width="0.12">450 °C / 16 h</text>
<line x1="479" y1="32.26" x2="497" y2="32.26" stroke="#ff0000" stroke-width="1.4"/>
<text x="498.8" y="34.86" font-size="8" text-anchor="start" font-weight="normal" letter-spacing="-0.14" text-rendering="geometricPrecision" stroke="#000" stroke-width="0.12">450 °C / 8 h</text>
<line x1="479" y1="41.99" x2="497" y2="41.99" stroke="#008000" stroke-width="1.4"/>
<text x="498.8" y="44.59" font-size="8" text-anchor="start" font-weight="normal" letter-spacing="-0.14" text-rendering="geometricPrecision" stroke="#000" stroke-width="0.12">450 °C / 2 h</text>
<text x="286.1" y="101.2" font-size="10.35" font-weight="bold" stroke="#000" stroke-width="0.15" text-anchor="middle" transform="rotate(-90 286.1 101.2)">Intensity (a.u.)</text>
<text x="422.5" y="211.5" font-size="10.3" text-anchor="middle" font-weight="bold" stroke="#000" stroke-width="0.15">2θ (degree)</text>
<path d="M301 53.47 L302 53.47 L303 53.48 L304 53.52 L305 53.43 L306 53.49 L307 53.47 L308 53.47 L309 53.48 L310 53.51 L311 53.46 L312 53.44 L313 53.49 L314 53.41 L315 53.43 L316 53.43 L317 53.35 L318 53.37 L319 53.35 L320 53.27 L321 52.91 L322 52.54 L323 52.49 L324 52.87 L325 53.19 L326 53.19 L327 53.24 L328 53.22 L329 53.14 L330 53.12 L331 52.98 L332 52.83 L333 52.6 L333.12 52.6 L333.24 52.51 L333.36 52.47 L333.48 52.42 L333.6 52.39 L333.72 52.38 L333.84 52.28 L333.96 52.27 L334.08 52.18 L334.2 52.11 L334.32 52.01 L334.44 51.95 L334.56 51.93 L334.68 51.84 L334.8 51.75 L334.92 51.59 L335.04 51.45 L335.16 51.3 L335.28 51.18 L335.4 51.03 L335.52 50.87 L335.64 50.58 L335.76 50.37 L335.88 50.13 L336 49.77 L336.12 49.31 L336.24 48.85 L336.36 48.28 L336.48 47.66 L336.6 47.04 L336.72 46.21 L336.84 45.27 L336.96 44.21 L337.08 43.01 L337.2 41.62 L337.32 40.09 L337.44 38.43 L337.56 36.63 L337.68 34.7 L337.8 32.68 L337.92 30.54 L338.04 28.46 L338.16 26.4 L338.28 24.51 L338.4 22.75 L338.52 21.36 L338.64 20.39 L338.76 20.02 L338.88 20.16 L339 20.77 L339.12 21.83 L339.24 23.36 L339.36 25.15 L339.48 27.11 L339.6 29.14 L339.72 31.22 L339.84 33.3 L339.96 35.29 L340.08 37.18 L340.2 38.97 L340.32 40.63 L340.44 42.02 L340.56 43.36 L340.68 44.48 L340.8 45.5 L340.92 46.49 L341.04 47.29 L341.16 48.02 L341.28 48.57 L341.4 49.01 L341.52 49.45 L341.64 49.85 L341.76 50.23 L341.88 50.54 L342 50.73 L342.12 50.91 L342.24 51.04 L342.36 51.24 L342.48 51.35 L342.6 51.45 L342.72 51.54 L342.84 51.63 L342.96 51.8 L343.08 51.85 L343.2 52.02 L343.32 52.03 L343.44 52.16 L343.56 52.17 L343.68 52.19 L343.8 52.3 L343.92 52.33 L344.04 52.43 L344.16 52.43 L344.28 52.43 L344.4 52.54 L344.52 52.61 L344.64 52.67 L344.76 52.71 L344.88 52.66 L345.88 52.89 L346.88 53.06 L347.88 53.13 L348.88 53.25 L349.88 53.24 L350.88 53.34 L351.88 53.37 L352.88 53.31 L353.88 53.29 L354.88 53.36 L355.88 53.42 L356.88 53.37 L357.88 53.37 L358.88 53.43 L359.88 53.39 L360.88 53.46 L361.88 53.45 L362.88 53.4 L363.88 53.41 L364.88 53.44 L365.88 53.44 L366.88 53.47 L367.88 53.43 L368.88 53.48 L369.88 53.46 L370.88 53.48 L371.88 53.49 L372.88 53.47 L373.88 53.46 L374.88 53.5 L375.88 53.54 L376.88 53.55 L377.88 53.52 L378.88 53.48 L379.88 53.43 L380.88 53.51 L381.88 53.52 L382.88 53.54 L383.88 53.49 L384.88 53.5 L385.88 53.55 L386.88 53.56 L387.88 53.54 L388.88 53.49 L389.88 53.48 L390.88 53.53 L391.88 53.5 L392.88 53.51 L393.88 53.51 L394.88 53.55 L395.88 53.56 L396.88 53.5 L397.88 53.43 L398.88 53.43 L399.88 53.45 L400.88 53.48 L401.88 53.53 L402.88 53.56 L403.88 53.47 L404.88 53.52 L405.88 53.54 L406.88 53.56 L407.88 53.54 L408.88 53.49 L409.88 53.53 L410.88 53.55 L411.88 53.54 L412.88 53.57 L413.88 53.51 L414.88 53.45 L415.88 53.48 L416.88 53.52 L417.88 53.47 L418.88 53.51 L419.88 53.56 L420.88 53.49 L421.88 53.51 L422.88 53.52 L423.88 53.5 L424.88 53.47 L425.88 53.45 L426.88 53.5 L427.88 53.53 L428.88 53.51 L429.88 53.45 L430.88 53.51 L431.88 53.54 L432.88 53.48 L433.88 53.5 L434.88 53.55 L435.88 53.57 L436.88 53.53 L437.88 53.51 L438.88 53.52 L439.88 53.47 L440.88 53.45 L441.88 53.43 L442.88 53.49 L443.88 53.48 L444.88 53.49 L445.88 53.48 L446.88 53.49 L447.88 53.45 L448.88 53.42 L449.88 53.52 L450.88 53.49 L451.88 53.45 L452.88 53.49 L453.88 53.53 L454.88 53.47 L455.88 53.5 L456.88 53.48 L457.88 53.49 L458.88 53.44 L459.88 53.41 L460.88 53.51 L461.88 53.55 L462.88 53.52 L463.88 53.52 L464.88 53.48 L465.88 53.52 L466.88 53.5 L467.88 53.55 L468.88 53.56 L469.88 53.57 L470.88 53.59 L471.88 53.51 L472.88 53.45 L473.88 53.44 L474.88 53.43 L475.88 53.41 L476.88 53.4 L477.88 53.46 L478.88 53.52 L479.88 53.5 L480.88 53.55 L481.88 53.58 L482.88 53.48 L483.88 53.5 L484.88 53.49 L485.88 53.45 L486.88 53.53 L487.88 53.48 L488.88 53.5 L489.88 53.51 L490.88 53.56 L491.88 53.55 L492.88 53.51 L493.88 53.5 L494.88 53.46 L495.88 53.53 L496.88 53.57 L497.88 53.5 L498.88 53.44 L499.88 53.44 L500.88 53.45 L501.88 53.52 L502.88 53.56 L503.88 53.56 L504.88 53.47 L505.88 53.52 L506.88 53.53 L507.88 53.53 L508.88 53.57 L509.88 53.47 L510.88 53.44 L511.88 53.49 L512.88 53.53 L513.88 53.52 L514.88 53.47 L515.88 53.47 L516.88 53.48 L517 53.41 L517.12 53.4 L517.24 53.39 L517.36 53.36 L517.48 53.39 L517.6 53.36 L517.72 53.36 L517.84 53.34 L517.96 53.39 L518.08 53.34 L518.2 53.39 L518.32 53.35 L518.44 53.31 L518.56 53.39 L518.68 53.35 L518.8 53.4 L518.92 53.42 L519.04 53.42 L519.16 53.32 L519.28 53.3 L519.4 53.24 L519.52 53.3 L519.64 53.3 L519.76 53.26 L519.88 53.19 L520 53.12 L520.12 53.11 L520.24 53.03 L520.36 52.97 L520.48 52.83 L520.6 52.72 L520.72 52.59 L520.84 52.53 L520.96 52.42 L521.08 52.23 L521.2 52.14 L521.32 51.95 L521.44 51.78 L521.56 51.58 L521.68 51.42 L521.8 51.34 L521.92 51.18 L522.04 51.05 L522.16 51 L522.28 50.97 L522.4 51.05 L522.52 51.04 L522.64 51.2 L522.76 51.25 L522.88 51.45 L523 51.61 L523.12 51.73 L523.24 51.9 L523.36 52.04 L523.48 52.18 L523.6 52.31 L523.72 52.46 L523.84 52.66 L523.96 52.82 L524.08 52.93 L524.2 52.92 L524.32 52.97 L524.44 53.1 L524.56 53.08 L524.68 53.17 L524.8 53.18 L524.92 53.28 L525.04 53.23 L525.16 53.31 L525.28 53.3 L525.4 53.28 L525.52 53.25 L525.64 53.35 L525.76 53.36 L525.88 53.33 L526 53.35 L526.12 53.42 L526.24 53.38 L526.36 53.4 L526.48 53.36 L526.6 53.35 L526.72 53.42 L526.84 53.44 L526.96 53.4 L527.08 53.36 L527.2 53.35 L527.32 53.4 L527.44 53.42 L527.56 53.4 L527.68 53.39 L527.8 53.43 L527.92 53.46 L528.04 53.49 L528.16 53.48 L528.28 53.43 L528.4 53.39 L529.4 53.46 L530.4 53.46 L531.4 53.5 L532.4 53.44 L533.4 53.5 L534.4 53.48 L535.4 53.52 L536.4 53.55 L537.4 53.52 L538.4 53.45 L539.4 53.52 L540.4 53.5 L541.4 53.54 L542.4 53.49" fill="none" stroke="#ff00ff" stroke-width="1.25" stroke-linejoin="round"/>
<path d="M301 86.36 L302 86.42 L303 86.39 L304 86.35 L305 86.36 L306 86.39 L307 86.33 L308 86.37 L309 86.37 L310 86.38 L311 86.34 L312 86.39 L313 86.43 L314 86.45 L315 86.39 L316 86.41 L317 86.38 L318 86.4 L319 86.3 L320 86.3 L321 86.16 L322 85.88 L323 85.86 L324 86.1 L325 86.28 L326 86.28 L327 86.38 L328 86.34 L329 86.32 L330 86.29 L331 86.29 L332 86.35 L333 86.28 L333.12 86.26 L333.24 86.32 L333.36 86.28 L333.48 86.24 L333.6 86.29 L333.72 86.31 L333.84 86.31 L333.96 86.33 L334.08 86.27 L334.2 86.33 L334.32 86.34 L334.44 86.26 L334.56 86.22 L334.68 86.25 L334.8 86.26 L334.92 86.23 L335.04 86.19 L335.16 86.21 L335.28 86.17 L335.4 86.21 L335.52 86.25 L335.64 86.18 L335.76 86.18 L335.88 86.2 L336 86.12 L336.12 86.15 L336.24 86.17 L336.36 86.1 L336.48 86.04 L336.6 86.05 L336.72 85.98 L336.84 85.9 L336.96 85.88 L337.08 85.77 L337.2 85.55 L337.32 85.25 L337.44 84.82 L337.56 84.15 L337.68 83.19 L337.8 81.71 L337.92 79.66 L338.04 76.96 L338.16 73.68 L338.28 69.88 L338.4 66.05 L338.52 62.59 L338.64 59.92 L338.76 58.5 L338.88 58.76 L339 60.63 L339.12 63.64 L339.24 67.33 L339.36 71.11 L339.48 74.72 L339.6 77.83 L339.72 80.27 L339.84 82.13 L339.96 83.56 L340.08 84.48 L340.2 85.09 L340.32 85.43 L340.44 85.67 L340.56 85.84 L340.68 85.94 L340.8 85.91 L340.92 85.99 L341.04 86 L341.16 86.07 L341.28 86.07 L341.4 86.11 L341.52 86.19 L341.64 86.2 L341.76 86.17 L341.88 86.19 L342 86.2 L342.12 86.27 L342.24 86.23 L342.36 86.22 L342.48 86.26 L342.6 86.22 L342.72 86.26 L342.84 86.33 L342.96 86.31 L343.08 86.28 L343.2 86.28 L343.32 86.3 L343.44 86.26 L343.56 86.24 L343.68 86.24 L343.8 86.26 L343.92 86.28 L344.04 86.28 L344.16 86.27 L344.28 86.26 L344.4 86.3 L344.52 86.36 L344.64 86.37 L344.76 86.36 L344.88 86.37 L345.88 86.34 L346.88 86.38 L347.88 86.38 L348.88 86.39 L349.88 86.4 L350.88 86.39 L351.88 86.37 L352.88 86.35 L353.88 86.34 L354.88 86.37 L355.88 86.37 L356.88 86.39 L357.88 86.33 L358.88 86.35 L359.88 86.41 L360.88 86.37 L361.88 86.39 L362.88 86.39 L363.88 86.37 L364.88 86.44 L365.88 86.39 L366.88 86.43 L367.88 86.37 L368.88 86.33 L369.88 86.41 L370.88 86.4 L371.88 86.34 L372.88 86.36 L373.88 86.37 L374.88 86.41 L375.88 86.36 L376.88 86.35 L377.88 86.43 L378.88 86.44 L379.88 86.38 L380.88 86.37 L381.88 86.37 L382.88 86.4 L383.88 86.42 L384.88 86.45 L385.88 86.46 L386.88 86.43 L387.88 86.44 L388.88 86.45 L389.88 86.46 L390.88 86.42 L391.88 86.45 L392.88 86.45 L393.88 86.47 L394.88 86.39 L395.88 86.44 L396.88 86.36 L397.88 86.41 L398.88 86.42 L399.88 86.41 L400.88 86.46 L401.88 86.44 L402.88 86.41 L403.88 86.44 L404.88 86.46 L405.88 86.44 L406.88 86.41 L407.88 86.4 L408.88 86.39 L409.88 86.42 L410.88 86.39 L411.88 86.38 L412.88 86.4 L413.88 86.38 L414.88 86.37 L415.88 86.42 L416.88 86.45 L417.88 86.43 L418.88 86.41 L419.88 86.36 L420.88 86.36 L421.88 86.34 L422.88 86.38 L423.88 86.4 L424.88 86.35 L425.88 86.42 L426.88 86.39 L427.88 86.44 L428.88 86.46 L429.88 86.48 L430.88 86.41 L431.88 86.39 L432.88 86.45 L433.88 86.36 L434.88 86.33 L435.88 86.37 L436.88 86.39 L437.88 86.44 L438.88 86.45 L439.88 86.43 L440.88 86.48 L441.88 86.44 L442.88 86.42 L443.88 86.43 L444.88 86.4 L445.88 86.38 L446.88 86.4 L447.88 86.38 L448.88 86.45 L449.88 86.44 L450.88 86.42 L451.88 86.36 L452.88 86.37 L453.88 86.37 L454.88 86.39 L455.88 86.4 L456.88 86.45 L457.88 86.48 L458.88 86.44 L459.88 86.41 L460.88 86.42 L461.88 86.47 L462.88 86.42 L463.88 86.41 L464.88 86.44 L465.88 86.38 L466.88 86.37 L467.88 86.44 L468.88 86.46 L469.88 86.43 L470.88 86.37 L471.88 86.43 L472.88 86.44 L473.88 86.46 L474.88 86.49 L475.88 86.49 L476.88 86.43 L477.88 86.38 L478.88 86.36 L479.88 86.38 L480.88 86.39 L481.88 86.36 L482.88 86.34 L483.88 86.39 L484.88 86.4 L485.88 86.38 L486.88 86.45 L487.88 86.44 L488.88 86.36 L489.88 86.37 L490.88 86.42 L491.88 86.39 L492.88 86.41 L493.88 86.35 L494.88 86.35 L495.88 86.41 L496.88 86.42 L497.88 86.43 L498.88 86.38 L499.88 86.39 L500.88 86.4 L501.88 86.37 L502.88 86.4 L503.88 86.4 L504.88 86.46 L505.88 86.43 L506.88 86.4 L507.88 86.35 L508.88 86.33 L509.88 86.39 L510.88 86.34 L511.88 86.32 L512.88 86.31 L513.88 86.35 L514.88 86.4 L515.88 86.39 L516.88 86.4 L517 86.32 L517.12 86.28 L517.24 86.34 L517.36 86.32 L517.48 86.36 L517.6 86.33 L517.72 86.29 L517.84 86.28 L517.96 86.26 L518.08 86.34 L518.2 86.34 L518.32 86.31 L518.44 86.3 L518.56 86.29 L518.68 86.24 L518.8 86.31 L518.92 86.3 L519.04 86.34 L519.16 86.29 L519.28 86.28 L519.4 86.22 L519.52 86.16 L519.64 86.22 L519.76 86.23 L519.88 86.15 L520 86.16 L520.12 86.13 L520.24 86.02 L520.36 85.98 L520.48 85.96 L520.6 85.85 L520.72 85.8 L520.84 85.64 L520.96 85.52 L521.08 85.44 L521.2 85.27 L521.32 85.14 L521.44 85.07 L521.56 84.92 L521.68 84.82 L521.8 84.65 L521.92 84.51 L522.04 84.44 L522.16 84.37 L522.28 84.43 L522.4 84.4 L522.52 84.46 L522.64 84.48 L522.76 84.61 L522.88 84.72 L523 84.84 L523.12 84.93 L523.24 85.05 L523.36 85.26 L523.48 85.36 L523.6 85.46 L523.72 85.55 L523.84 85.65 L523.96 85.73 L524.08 85.78 L524.2 85.92 L524.32 85.97 L524.44 85.99 L524.56 86.09 L524.68 86.08 L524.8 86.11 L524.92 86.2 L525.04 86.17 L525.16 86.21 L525.28 86.27 L525.4 86.31 L525.52 86.26 L525.64 86.26 L525.76 86.3 L525.88 86.29 L526 86.35 L526.12 86.3 L526.24 86.36 L526.36 86.34 L526.48 86.3 L526.6 86.31 L526.72 86.28 L526.84 86.33 L526.96 86.31 L527.08 86.37 L527.2 86.37 L527.32 86.34 L527.44 86.32 L527.56 86.35 L527.68 86.32 L527.8 86.38 L527.92 86.32 L528.04 86.34 L528.16 86.36 L528.28 86.33 L528.4 86.38 L529.4 86.37 L530.4 86.4 L531.4 86.4 L532.4 86.37 L533.4 86.37 L534.4 86.33 L535.4 86.32 L536.4 86.4 L537.4 86.38 L538.4 86.41 L539.4 86.35 L540.4 86.38 L541.4 86.37 L542.4 86.38" fill="none" stroke="#0000ff" stroke-width="1.25" stroke-linejoin="round"/>
<path d="M301 113.77 L302 113.73 L303 113.74 L304 113.74 L305 113.72 L306 113.78 L307 113.76 L308 113.77 L309 113.83 L310 113.84 L311 113.86 L312 113.87 L313 113.79 L314 113.76 L315 113.71 L316 113.77 L317 113.79 L318 113.75 L319 113.73 L320 113.68 L321 113.52 L322 113.23 L323 113.28 L324 113.49 L325 113.68 L326 113.71 L327 113.7 L328 113.78 L329 113.8 L330 113.81 L331 113.73 L332 113.68 L333 113.66 L333.12 113.66 L333.24 113.68 L333.36 113.69 L333.48 113.65 L333.6 113.67 L333.72 113.71 L333.84 113.68 L333.96 113.74 L334.08 113.73 L334.2 113.74 L334.32 113.69 L334.44 113.69 L334.56 113.71 L334.68 113.68 L334.8 113.62 L334.92 113.68 L335.04 113.7 L335.16 113.65 L335.28 113.59 L335.4 113.65 L335.52 113.64 L335.64 113.56 L335.76 113.54 L335.88 113.5 L336 113.55 L336.12 113.49 L336.24 113.53 L336.36 113.51 L336.48 113.4 L336.6 113.38 L336.72 113.29 L336.84 113.21 L336.96 113.07 L337.08 112.74 L337.2 112.26 L337.32 111.67 L337.44 110.64 L337.56 109.26 L337.68 107.35 L337.8 104.94 L337.92 102.12 L338.04 99.04 L338.16 96 L338.28 93.39 L338.4 91.76 L338.52 91.31 L338.64 92.19 L338.76 94.26 L338.88 96.94 L339 100.04 L339.12 102.99 L339.24 105.74 L339.36 108.03 L339.48 109.73 L339.6 111.01 L339.72 111.95 L339.84 112.52 L339.96 112.88 L340.08 113.07 L340.2 113.17 L340.32 113.28 L340.44 113.36 L340.56 113.39 L340.68 113.43 L340.8 113.44 L340.92 113.53 L341.04 113.58 L341.16 113.56 L341.28 113.56 L341.4 113.59 L341.52 113.61 L341.64 113.68 L341.76 113.65 L341.88 113.64 L342 113.7 L342.12 113.65 L342.24 113.68 L342.36 113.67 L342.48 113.72 L342.6 113.72 L342.72 113.75 L342.84 113.69 L342.96 113.73 L343.08 113.74 L343.2 113.73 L343.32 113.76 L343.44 113.79 L343.56 113.72 L343.68 113.7 L343.8 113.71 L343.92 113.69 L344.04 113.67 L344.16 113.68 L344.28 113.68 L344.4 113.74 L344.52 113.74 L345.52 113.71 L346.52 113.73 L347.52 113.75 L348.52 113.75 L349.52 113.73 L350.52 113.71 L351.52 113.69 L352.52 113.8 L353.52 113.83 L354.52 113.76 L355.52 113.8 L356.52 113.86 L357.52 113.83 L358.52 113.77 L359.52 113.78 L360.52 113.78 L361.52 113.75 L362.52 113.78 L363.52 113.73 L364.52 113.81 L365.52 113.82 L366.52 113.83 L367.52 113.86 L368.52 113.85 L369.52 113.79 L370.52 113.77 L371.52 113.74 L372.52 113.71 L373.52 113.79 L374.52 113.83 L375.52 113.79 L376.52 113.76 L377.52 113.79 L378.52 113.84 L379.52 113.87 L380.52 113.79 L381.52 113.83 L382.52 113.85 L383.52 113.86 L384.52 113.81 L385.52 113.77 L386.52 113.82 L387.52 113.79 L388.52 113.78 L389.52 113.79 L390.52 113.78 L391.52 113.83 L392.52 113.78 L393.52 113.74 L394.52 113.78 L395.52 113.8 L396.52 113.84 L397.52 113.84 L398.52 113.87 L399.52 113.89 L400.52 113.84 L401.52 113.82 L402.52 113.77 L403.52 113.76 L404.52 113.79 L405.52 113.74 L406.52 113.79 L407.52 113.76 L408.52 113.77 L409.52 113.84 L410.52 113.77 L411.52 113.73 L412.52 113.76 L413.52 113.74 L414.52 113.8 L415.52 113.74 L416.52 113.81 L417.52 113.85 L418.52 113.86 L419.52 113.82 L420.52 113.78 L421.52 113.81 L422.52 113.81 L423.52 113.79 L424.52 113.78 L425.52 113.78 L426.52 113.81 L427.52 113.84 L428.52 113.87 L429.52 113.79 L430.52 113.77 L431.52 113.78 L432.52 113.8 L433.52 113.78 L434.52 113.75 L435.52 113.73 L436.52 113.74 L437.52 113.77 L438.52 113.84 L439.52 113.87 L440.52 113.88 L441.52 113.9 L442.52 113.9 L443.52 113.87 L444.52 113.87 L445.52 113.78 L446.52 113.81 L447.52 113.82 L448.52 113.78 L449.52 113.8 L450.52 113.85 L451.52 113.82 L452.52 113.83 L453.52 113.79 L454.52 113.78 L455.52 113.83 L456.52 113.76 L457.52 113.74 L458.52 113.79 L459.52 113.79 L460.52 113.74 L461.52 113.79 L462.52 113.78 L463.52 113.8 L464.52 113.79 L465.52 113.8 L466.52 113.81 L467.52 113.79 L468.52 113.75 L469.52 113.74 L470.52 113.81 L471.52 113.81 L472.52 113.76 L473.52 113.82 L474.52 113.78 L475.52 113.74 L476.52 113.77 L477.52 113.76 L478.52 113.78 L479.52 113.79 L480.52 113.76 L481.52 113.79 L482.52 113.75 L483.52 113.78 L484.52 113.8 L485.52 113.75 L486.52 113.76 L487.52 113.73 L488.52 113.76 L489.52 113.82 L490.52 113.82 L491.52 113.83 L492.52 113.85 L493.52 113.78 L494.52 113.85 L495.52 113.85 L496.52 113.78 L497.52 113.83 L498.52 113.8 L499.52 113.76 L500.52 113.83 L501.52 113.82 L502.52 113.84 L503.52 113.78 L504.52 113.82 L505.52 113.76 L506.52 113.74 L507.52 113.75 L508.52 113.72 L509.52 113.77 L510.52 113.75 L511.52 113.75 L512.52 113.79 L513.52 113.78 L514.52 113.83 L515.52 113.82 L516.52 113.84 L517.52 113.81 L518.52 113.81 L519.52 113.76 L520.52 113.43 L521.52 112.95 L522.52 112.94 L523.52 113.47 L524.52 113.72 L525.52 113.8 L526.52 113.75 L527.52 113.75 L528.52 113.8 L529.52 113.85 L530.52 113.85 L531.52 113.77 L532.52 113.79 L533.52 113.75 L534.52 113.78 L535.52 113.82 L536.52 113.76 L537.52 113.83 L538.52 113.84 L539.52 113.79 L540.52 113.76 L541.52 113.77 L542.52 113.83" fill="none" stroke="#ff0000" stroke-width="1.25" stroke-linejoin="round"/>
<path d="M301 170.3 L302 170.25 L303 170.22 L304 170.21 L305 170.29 L306 170.25 L307 170.28 L308 170.26 L309 170.29 L310 170.28 L311 170.24 L312 170.3 L313 170.3 L314 170.31 L315 170.32 L316 170.35 L317 170.24 L318 170.21 L319 170.14 L320 170.05 L321 169.82 L322 169.42 L323 169.34 L324 169.73 L325 170.08 L326 170.21 L327 170.22 L328 170.22 L329 170.18 L330 170.24 L331 170.2 L332 170.23 L333 170.18 L333.12 170.1 L333.24 170.09 L333.36 170.07 L333.48 170.14 L333.6 170.13 L333.72 170.05 L333.84 170.03 L333.96 170.03 L334.08 170.04 L334.2 170.05 L334.32 170.02 L334.44 170 L334.56 169.94 L334.68 169.96 L334.8 169.94 L334.92 169.88 L335.04 169.89 L335.16 169.94 L335.28 169.84 L335.4 169.78 L335.52 169.8 L335.64 169.74 L335.76 169.68 L335.88 169.65 L336 169.57 L336.12 169.53 L336.24 169.46 L336.36 169.42 L336.48 169.31 L336.6 169.03 L336.72 168.77 L336.84 168.39 L336.96 167.79 L337.08 166.83 L337.2 165.39 L337.32 163.32 L337.44 160.43 L337.56 156.64 L337.68 151.96 L337.8 146.38 L337.92 140.15 L338.04 133.65 L338.16 127.47 L338.28 122.45 L338.4 119.23 L338.52 118.36 L338.64 120.05 L338.76 123.93 L338.88 129.43 L339 135.73 L339.12 142.15 L339.24 148.24 L339.36 153.57 L339.48 158.06 L339.6 161.49 L339.72 164.04 L339.84 165.84 L339.96 167.08 L340.08 167.93 L340.2 168.45 L340.32 168.78 L340.44 169.11 L340.56 169.27 L340.68 169.39 L340.8 169.5 L340.92 169.55 L341.04 169.59 L341.16 169.62 L341.28 169.68 L341.4 169.73 L341.52 169.82 L341.64 169.86 L341.76 169.94 L341.88 169.92 L342 169.99 L342.12 170 L342.24 169.95 L342.36 169.95 L342.48 170 L342.6 170.08 L342.72 170.06 L342.84 170.1 L342.96 170.08 L343.08 170.13 L343.2 170.07 L343.32 170.09 L343.44 170.16 L343.56 170.12 L343.68 170.1 L343.8 170.07 L343.92 170.07 L344.04 170.09 L344.16 170.15 L344.28 170.13 L344.4 170.14 L344.52 170.12 L345.52 170.19 L346.52 170.27 L347.52 170.28 L348.52 170.24 L349.52 170.28 L350.52 170.33 L351.52 170.32 L352.52 170.25 L353.52 170.3 L354.52 170.34 L355.52 170.29 L356.52 170.25 L357.52 170.23 L358.52 170.26 L359.52 170.32 L360.52 170.32 L361.52 170.36 L362.52 170.29 L363.52 170.27 L364.52 170.31 L365.52 170.32 L366.52 170.3 L367.52 170.32 L368.52 170.29 L369.52 170.24 L370.52 170.26 L371.52 170.22 L372.52 170.27 L373.52 170.27 L374.52 170.28 L375.52 170.3 L376.52 170.27 L377.52 170.28 L378.52 170.23 L379.52 170.31 L380.52 170.31 L381.52 170.36 L382.52 170.28 L383.52 170.3 L384.52 170.33 L385.52 170.29 L386.52 170.25 L387.52 170.23 L388.52 170.22 L389.52 170.29 L390.52 170.25 L391.52 170.31 L392.52 170.29 L393.52 170.3 L394.52 170.31 L395.52 170.31 L396.52 170.32 L397.52 170.32 L398.52 170.29 L399.52 170.32 L400.52 170.28 L401.52 170.32 L402.52 170.34 L403.52 170.35 L404.52 170.3 L405.52 170.33 L406.52 170.37 L407.52 170.33 L408.52 170.29 L409.52 170.3 L410.52 170.35 L411.52 170.28 L412.52 170.23 L413.52 170.26 L414.52 170.3 L415.52 170.33 L416.52 170.3 L417.52 170.36 L418.52 170.3 L419.52 170.33 L420.52 170.26 L421.52 170.23 L422.52 170.22 L423.52 170.21 L424.52 170.25 L425.52 170.28 L426.52 170.25 L427.52 170.33 L428.52 170.3 L429.52 170.26 L430.52 170.24 L431.52 170.3 L432.52 170.35 L433.52 170.28 L434.52 170.23 L435.52 170.3 L436.52 170.27 L437.52 170.34 L438.52 170.32 L439.52 170.33 L440.52 170.29 L441.52 170.33 L442.52 170.31 L443.52 170.28 L444.52 170.34 L445.52 170.27 L446.52 170.31 L447.52 170.25 L448.52 170.29 L449.52 170.28 L450.52 170.34 L451.52 170.26 L452.52 170.29 L453.52 170.28 L454.52 170.34 L455.52 170.37 L456.52 170.35 L457.52 170.29 L458.52 170.27 L459.52 170.25 L460.52 170.27 L461.52 170.25 L462.52 170.24 L463.52 170.3 L464.52 170.32 L465.52 170.28 L466.52 170.35 L467.52 170.29 L468.52 170.3 L469.52 170.26 L470.52 170.32 L471.52 170.36 L472.52 170.3 L473.52 170.33 L474.52 170.35 L475.52 170.3 L476.52 170.28 L477.52 170.29 L478.52 170.34 L479.52 170.28 L480.52 170.31 L481.52 170.32 L482.52 170.3 L483.52 170.31 L484.52 170.35 L485.52 170.29 L486.52 170.34 L487.52 170.3 L488.52 170.33 L489.52 170.36 L490.52 170.29 L491.52 170.34 L492.52 170.38 L493.52 170.31 L494.52 170.25 L495.52 170.23 L496.52 170.32 L497.52 170.25 L498.52 170.32 L499.52 170.27 L500.52 170.31 L501.52 170.25 L502.52 170.23 L503.52 170.29 L504.52 170.24 L505.52 170.25 L506.52 170.32 L507.52 170.33 L508.52 170.35 L509.52 170.38 L510.52 170.27 L511.52 170.24 L512.52 170.29 L513.52 170.3 L514.52 170.22 L515.52 170.23 L516.52 170.2 L516.64 170.21 L516.76 170.17 L516.88 170.14 L517 170.24 L517.12 170.21 L517.24 170.26 L517.36 170.19 L517.48 170.2 L517.6 170.16 L517.72 170.17 L517.84 170.14 L517.96 170.19 L518.08 170.14 L518.2 170.19 L518.32 170.18 L518.44 170.12 L518.56 170.12 L518.68 170.13 L518.8 170.18 L518.92 170.13 L519.04 170.08 L519.16 170.14 L519.28 170.14 L519.4 170.11 L519.52 170.03 L519.64 169.96 L519.76 169.91 L519.88 169.84 L520 169.77 L520.12 169.75 L520.24 169.69 L520.36 169.63 L520.48 169.52 L520.6 169.36 L520.72 169.29 L520.84 169.17 L520.96 169.01 L521.08 168.84 L521.2 168.68 L521.32 168.53 L521.44 168.34 L521.56 168.13 L521.68 167.89 L521.8 167.68 L521.92 167.52 L522.04 167.46 L522.16 167.35 L522.28 167.29 L522.4 167.3 L522.52 167.33 L522.64 167.53 L522.76 167.6 L522.88 167.8 L523 168.04 L523.12 168.19 L523.24 168.4 L523.36 168.57 L523.48 168.73 L523.6 168.89 L523.72 169.03 L523.84 169.26 L523.96 169.42 L524.08 169.57 L524.2 169.59 L524.32 169.71 L524.44 169.76 L524.56 169.85 L524.68 169.91 L524.8 169.93 L524.92 170.03 L525.04 169.98 L525.16 170.06 L525.28 170.12 L525.4 170.12 L525.52 170.13 L525.64 170.19 L525.76 170.14 L525.88 170.16 L526 170.19 L526.12 170.17 L526.24 170.2 L526.36 170.18 L526.48 170.19 L526.6 170.21 L526.72 170.23 L526.84 170.19 L526.96 170.22 L527.08 170.22 L527.2 170.19 L527.32 170.22 L527.44 170.19 L527.56 170.26 L527.68 170.24 L527.8 170.27 L527.92 170.25 L528.04 170.24 L528.16 170.21 L528.28 170.18 L528.4 170.27 L529.4 170.27 L530.4 170.28 L531.4 170.28 L532.4 170.32 L533.4 170.27 L534.4 170.24 L535.4 170.3 L536.4 170.29 L537.4 170.31 L538.4 170.34 L539.4 170.36 L540.4 170.37 L541.4 170.28 L542.4 170.27" fill="none" stroke="#008000" stroke-width="1.25" stroke-linejoin="round"/>
<path d="M322.6 44.95 L325.95 48.3 L322.6 51.65 L319.25 48.3Z" fill="#ff0000"/>
<path d="M322.6 77.85 L325.95 81.2 L322.6 84.55 L319.25 81.2Z" fill="#ff0000"/>
<path d="M322.6 105.85 L325.95 109.2 L322.6 112.55 L319.25 109.2Z" fill="#ff0000"/>
<path d="M322.6 161.85 L325.95 165.2 L322.6 168.55 L319.25 165.2Z" fill="#ff0000"/>
<circle cx="338.7" cy="16.8" r="3" fill="#000"/>
<circle cx="338.7" cy="54.8" r="3" fill="#000"/>
<circle cx="338.7" cy="88.5" r="3" fill="#000"/>
<circle cx="338.7" cy="116" r="3" fill="#000"/>
<circle cx="522.5" cy="48.5" r="3" fill="#000"/>
<circle cx="522.2" cy="81.2" r="3" fill="#000"/>
<circle cx="521.5" cy="109.5" r="3" fill="#000"/>
<circle cx="522" cy="162" r="3" fill="#000"/>
<rect x="22.8" y="218" width="245.7" height="182.5" fill="none" stroke="#222" stroke-width="1.2"/>
<line x1="22.8" y1="400.5" x2="268.5" y2="400.5" stroke="#222" stroke-width="1.6"/>
<line x1="22.8" y1="400.5" x2="22.8" y2="404" stroke="#222" stroke-width="1.2"/>
<text x="23.2" y="411.8" font-size="7.4" text-anchor="middle" font-weight="normal" fill="#333" stroke="#333" stroke-width="0.12">30</text>
<line x1="43.27" y1="400.5" x2="43.27" y2="404" stroke="#222" stroke-width="1.2"/>
<text x="43.67" y="411.8" font-size="7.4" text-anchor="middle" font-weight="normal" fill="#333" stroke="#333" stroke-width="0.12">35</text>
<line x1="63.75" y1="400.5" x2="63.75" y2="404" stroke="#222" stroke-width="1.2"/>
<text x="64.15" y="411.8" font-size="7.4" text-anchor="middle" font-weight="normal" fill="#333" stroke="#333" stroke-width="0.12">40</text>
<line x1="84.22" y1="400.5" x2="84.22" y2="404" stroke="#222" stroke-width="1.2"/>
<text x="84.62" y="411.8" font-size="7.4" text-anchor="middle" font-weight="normal" fill="#333" stroke="#333" stroke-width="0.12">45</text>
<line x1="104.7" y1="400.5" x2="104.7" y2="404" stroke="#222" stroke-width="1.2"/>
<text x="105.1" y="411.8" font-size="7.4" text-anchor="middle" font-weight="normal" fill="#333" stroke="#333" stroke-width="0.12">50</text>
<line x1="125.17" y1="400.5" x2="125.17" y2="404" stroke="#222" stroke-width="1.2"/>
<text x="125.58" y="411.8" font-size="7.4" text-anchor="middle" font-weight="normal" fill="#333" stroke="#333" stroke-width="0.12">55</text>
<line x1="145.65" y1="400.5" x2="145.65" y2="404" stroke="#222" stroke-width="1.2"/>
<text x="146.05" y="411.8" font-size="7.4" text-anchor="middle" font-weight="normal" fill="#333" stroke="#333" stroke-width="0.12">60</text>
<line x1="166.12" y1="400.5" x2="166.12" y2="404" stroke="#222" stroke-width="1.2"/>
<text x="166.53" y="411.8" font-size="7.4" text-anchor="middle" font-weight="normal" fill="#333" stroke="#333" stroke-width="0.12">65</text>
<line x1="186.6" y1="400.5" x2="186.6" y2="404" stroke="#222" stroke-width="1.2"/>
<text x="187" y="411.8" font-size="7.4" text-anchor="middle" font-weight="normal" fill="#333" stroke="#333" stroke-width="0.12">70</text>
<line x1="207.07" y1="400.5" x2="207.07" y2="404" stroke="#222" stroke-width="1.2"/>
<text x="207.47" y="411.8" font-size="7.4" text-anchor="middle" font-weight="normal" fill="#333" stroke="#333" stroke-width="0.12">75</text>
<line x1="227.55" y1="400.5" x2="227.55" y2="404" stroke="#222" stroke-width="1.2"/>
<text x="227.95" y="411.8" font-size="7.4" text-anchor="middle" font-weight="normal" fill="#333" stroke="#333" stroke-width="0.12">80</text>
<line x1="248.03" y1="400.5" x2="248.03" y2="404" stroke="#222" stroke-width="1.2"/>
<text x="248.43" y="411.8" font-size="7.4" text-anchor="middle" font-weight="normal" fill="#333" stroke="#333" stroke-width="0.12">85</text>
<line x1="268.5" y1="400.5" x2="268.5" y2="404" stroke="#222" stroke-width="1.2"/>
<text x="268.9" y="411.8" font-size="7.4" text-anchor="middle" font-weight="normal" fill="#333" stroke="#333" stroke-width="0.12">90</text>
<text x="28.3" y="233.9" font-size="14.5" text-anchor="start" font-weight="normal" stroke="#000" stroke-width="0.15">(c)</text>
<path d="M170.5 222.15 L173.85 225.5 L170.5 228.85 L167.15 225.5Z" fill="#ff0000"/>
<text x="175.6" y="227.9" font-size="8" text-anchor="start" font-weight="normal" stroke="#000" stroke-width="0.12">α</text>
<circle cx="187.5" cy="225.5" r="3" fill="#000"/>
<text x="193.3" y="227.9" font-size="8" text-anchor="start" font-weight="normal" stroke="#000" stroke-width="0.12">β</text>
<line x1="203.2" y1="226.2" x2="221.9" y2="226.2" stroke="#ff00ff" stroke-width="1.4"/>
<text x="223.6" y="228.8" font-size="8" text-anchor="start" font-weight="normal" letter-spacing="-0.14" text-rendering="geometricPrecision" stroke="#000" stroke-width="0.12">500 °C / 24 h</text>
<line x1="203.2" y1="235.93" x2="221.9" y2="235.93" stroke="#0000ff" stroke-width="1.4"/>
<text x="223.6" y="238.53" font-size="8" text-anchor="start" font-weight="normal" letter-spacing="-0.14" text-rendering="geometricPrecision" stroke="#000" stroke-width="0.12">500 °C / 16 h</text>
<line x1="203.2" y1="245.66" x2="221.9" y2="245.66" stroke="#ff0000" stroke-width="1.4"/>
<text x="223.6" y="248.26" font-size="8" text-anchor="start" font-weight="normal" letter-spacing="-0.14" text-rendering="geometricPrecision" stroke="#000" stroke-width="0.12">500 °C / 8 h</text>
<line x1="203.2" y1="255.39" x2="221.9" y2="255.39" stroke="#008000" stroke-width="1.4"/>
<text x="223.6" y="257.99" font-size="8" text-anchor="start" font-weight="normal" letter-spacing="-0.14" text-rendering="geometricPrecision" stroke="#000" stroke-width="0.12">500 °C / 2 h</text>
<text x="9.7" y="315.6" font-size="10.35" font-weight="bold" stroke="#000" stroke-width="0.15" text-anchor="middle" transform="rotate(-90 9.7 315.6)">Intensity (a.u.)</text>
<text x="145.5" y="427" font-size="10.3" text-anchor="middle" font-weight="bold" stroke="#000" stroke-width="0.15">2θ (degree)</text>
<path d="M23.6 268.23 L24.6 268.25 L25.6 268.18 L26.6 268.14 L27.6 268.14 L28.6 268.12 L29.6 268.13 L30.6 268.2 L31.6 268.19 L32.6 268.18 L33.6 268.14 L34.6 268.15 L35.6 268.22 L36.6 268.22 L37.6 268.19 L38.6 268.18 L39.6 268.21 L40.6 268.21 L41.6 268.13 L42.6 268.13 L43.6 268.01 L44.6 267.8 L45.6 267.55 L46.6 267.66 L47.6 267.9 L48.6 268.03 L49.6 268.03 L50.6 268.04 L51.6 268.09 L52.6 268.04 L52.72 268.03 L52.84 268.09 L52.96 268.07 L53.08 268.06 L53.2 268.04 L53.32 268.11 L53.44 268.05 L53.56 268.08 L53.68 268.12 L53.8 268.06 L53.92 268.06 L54.04 268.1 L54.16 268.09 L54.28 268.06 L54.4 268 L54.52 268.02 L54.64 268.01 L54.76 268.05 L54.88 268.01 L55 268.01 L55.12 268.03 L55.24 268.05 L55.36 268 L55.48 267.98 L55.6 267.98 L55.72 268.01 L55.84 267.93 L55.96 267.97 L56.08 267.94 L56.2 267.87 L56.32 267.83 L56.44 267.72 L56.56 267.56 L56.68 267.44 L56.8 267.15 L56.92 266.79 L57.04 266.29 L57.16 265.75 L57.28 265.11 L57.4 264.43 L57.52 264.06 L57.64 263.99 L57.76 264.27 L57.88 264.84 L58 265.44 L58.12 266.03 L58.24 266.59 L58.36 266.96 L58.48 267.23 L58.6 267.42 L58.72 267.57 L58.84 267.63 L58.96 267.68 L59.08 267.66 L59.2 267.6 L59.32 267.64 L59.44 267.64 L59.56 267.66 L59.68 267.65 L59.8 267.56 L59.92 267.5 L60.04 267.44 L60.16 267.47 L60.28 267.37 L60.4 267.28 L60.52 267.27 L60.64 267.17 L60.76 266.97 L60.88 266.81 L61 266.55 L61.12 266.13 L61.24 265.51 L61.36 264.79 L61.48 263.76 L61.6 262.44 L61.72 260.81 L61.84 258.76 L61.96 256.34 L62.08 253.51 L62.2 250.51 L62.32 247.44 L62.44 244.38 L62.56 241.75 L62.68 239.52 L62.8 238.04 L62.92 237.47 L63.04 237.83 L63.16 239.11 L63.28 240.98 L63.4 243.27 L63.52 245.76 L63.64 248.19 L63.76 250.52 L63.88 252.62 L64 254.34 L64.12 255.69 L64.24 256.6 L64.36 257.25 L64.48 257.67 L64.6 258.01 L64.72 258.23 L64.84 258.45 L64.96 258.7 L65.08 259.03 L65.2 259.39 L65.32 259.89 L65.44 260.37 L65.56 260.99 L65.68 261.57 L65.8 262.11 L65.92 262.7 L66.04 263.31 L66.16 263.85 L66.28 264.38 L66.4 264.83 L66.52 265.24 L66.64 265.67 L66.76 265.97 L66.88 266.3 L67 266.58 L67.12 266.78 L67.24 266.94 L67.36 267.14 L67.48 267.23 L67.6 267.37 L67.72 267.38 L67.84 267.46 L67.96 267.55 L68.08 267.55 L68.2 267.66 L68.32 267.64 L68.44 267.7 L68.56 267.7 L68.68 267.8 L68.8 267.82 L68.92 267.86 L69.04 267.86 L69.16 267.88 L69.28 267.91 L69.4 267.88 L69.52 267.86 L69.64 267.93 L69.76 267.89 L69.88 267.97 L70 267.93 L70.12 267.9 L70.24 267.89 L70.36 267.97 L70.48 268.03 L70.6 268.01 L70.72 268.02 L70.84 267.99 L70.96 268.05 L71.96 268.1 L72.96 268.07 L73.96 268.05 L74.96 268.12 L75.96 268.08 L76.96 268.16 L77.96 268.13 L78.96 268.12 L79.96 268.15 L80.96 268.14 L81.96 268.17 L82.96 268.13 L83.96 268.2 L84.96 268.17 L85.96 268.22 L86.96 268.16 L87.96 268.21 L88.96 268.26 L89.96 268.21 L90.96 268.14 L91.96 268.15 L92.96 268.19 L93.96 268.16 L94.96 268.18 L95.96 268.14 L96.96 268.16 L97.96 268.2 L98.96 268.19 L99.96 268.21 L100.96 268.16 L101.96 268.21 L102.96 268.16 L103.96 268.23 L104.96 268.27 L105.96 268.29 L106.96 268.24 L107.96 268.19 L108.96 268.18 L109.96 268.22 L110.96 268.21 L111.96 268.25 L112.96 268.18 L113.96 268.18 L114.96 268.23 L115.96 268.23 L116.96 268.22 L117.96 268.16 L118.96 268.13 L119.96 268.14 L120.96 268.21 L121.96 268.25 L122.96 268.19 L123.96 268.24 L124.96 268.16 L125.96 268.19 L126.96 268.25 L127.96 268.21 L128.96 268.26 L129.96 268.25 L130.96 268.17 L131.96 268.16 L132.96 268.17 L133.96 268.16 L134.96 268.21 L135.96 268.16 L136.96 268.22 L137.96 268.18 L138.96 268.14 L139.96 268.18 L140.96 268.14 L141.96 268.17 L142.96 268.22 L143.96 268.22 L144.96 268.21 L145.96 268.15 L146.96 268.17 L147.96 268.14 L148.96 268.19 L149.96 268.15 L150.96 268.18 L151.96 268.17 L152.96 268.17 L153.96 268.2 L154.96 268.16 L155.96 268.14 L156.96 268.22 L157.96 268.19 L158.96 268.24 L159.96 268.26 L160.96 268.23 L161.96 268.17 L162.96 268.14 L163.96 268.21 L164.96 268.16 L165.96 268.18 L166.96 268.19 L167.96 268.15 L168.96 268.17 L169.96 268.14 L170.96 268.18 L171.96 268.19 L172.96 268.18 L173.96 268.15 L174.96 268.16 L175.96 268.15 L176.96 268.13 L177.96 268.13 L178.96 268.21 L179.96 268.2 L180.96 268.25 L181.96 268.17 L182.96 268.24 L183.96 268.22 L184.96 268.24 L185.96 268.23 L186.96 268.24 L187.96 268.19 L188.96 268.22 L189.96 268.17 L190.96 268.16 L191.96 268.12 L192.96 268.15 L193.96 268.18 L194.96 268.16 L195.96 268.23 L196.96 268.16 L197.96 268.19 L198.96 268.16 L199.96 268.19 L200.96 268.23 L201.96 268.24 L202.96 268.17 L203.96 268.15 L204.96 268.19 L205.96 268.25 L206.96 268.17 L207.96 268.2 L208.96 268.22 L209.96 268.25 L210.96 268.2 L211.96 268.24 L212.96 268.21 L213.96 268.26 L214.96 268.17 L215.96 268.24 L216.96 268.21 L217.96 268.19 L218.96 268.15 L219.96 268.14 L220.96 268.2 L221.96 268.22 L222.96 268.17 L223.96 268.16 L224.96 268.14 L225.96 268.13 L226.96 268.13 L227.96 268.14 L228.96 268.23 L229.96 268.27 L230.96 268.27 L231.96 268.23 L232.96 268.21 L233.96 268.24 L234.96 268.27 L235.96 268.26 L236.96 268.24 L237.96 268.18 L238.96 268.2 L239.96 268.24 L240.96 268.25 L241.96 268.17 L242.96 268.2 L243.96 268.17 L244.96 268.13 L245.96 268.2 L246.96 268.18 L247.96 268.16 L248.96 267.97 L249.96 267.58 L250.96 266.86 L251.96 267.1 L252.96 267.81 L253.96 268.12 L254.96 268.2 L255.96 268.2 L256.96 268.18 L257.96 268.22 L258.96 268.24 L259.96 268.26 L260.96 268.2 L261.96 268.25 L262.96 268.23 L263.96 268.26 L264.96 268.18 L265.96 268.25 L266.96 268.26" fill="none" stroke="#ff00ff" stroke-width="1.25" stroke-linejoin="round"/>
<path d="M23.6 304.46 L24.6 304.52 L25.6 304.47 L26.6 304.45 L27.6 304.46 L28.6 304.44 L29.6 304.47 L30.6 304.53 L31.6 304.53 L32.6 304.53 L33.6 304.49 L34.6 304.52 L35.6 304.54 L36.6 304.53 L37.6 304.55 L38.6 304.55 L39.6 304.49 L40.6 304.42 L41.6 304.45 L42.6 304.46 L43.6 304.34 L44.6 304.16 L45.6 303.95 L46.6 304 L47.6 304.15 L48.6 304.33 L49.6 304.33 L50.6 304.33 L51.6 304.4 L52.6 304.38 L52.72 304.4 L52.84 304.39 L52.96 304.37 L53.08 304.34 L53.2 304.34 L53.32 304.4 L53.44 304.4 L53.56 304.36 L53.68 304.32 L53.8 304.31 L53.92 304.36 L54.04 304.35 L54.16 304.37 L54.28 304.4 L54.4 304.32 L54.52 304.35 L54.64 304.28 L54.76 304.34 L54.88 304.29 L55 304.27 L55.12 304.34 L55.24 304.29 L55.36 304.25 L55.48 304.3 L55.6 304.29 L55.72 304.3 L55.84 304.24 L55.96 304.21 L56.08 304.23 L56.2 304.17 L56.32 304.16 L56.44 304.01 L56.56 303.93 L56.68 303.69 L56.8 303.44 L56.92 303 L57.04 302.5 L57.16 301.99 L57.28 301.33 L57.4 300.77 L57.52 300.32 L57.64 300.24 L57.76 300.48 L57.88 301.05 L58 301.72 L58.12 302.31 L58.24 302.8 L58.36 303.25 L58.48 303.55 L58.6 303.72 L58.72 303.75 L58.84 303.84 L58.96 303.86 L59.08 303.93 L59.2 303.89 L59.32 303.89 L59.44 303.88 L59.56 303.83 L59.68 303.81 L59.8 303.79 L59.92 303.79 L60.04 303.71 L60.16 303.62 L60.28 303.59 L60.4 303.41 L60.52 303.32 L60.64 303.13 L60.76 302.84 L60.88 302.44 L61 301.92 L61.12 301.2 L61.24 300.19 L61.36 298.86 L61.48 297.09 L61.6 294.99 L61.72 292.47 L61.84 289.7 L61.96 286.58 L62.08 283.2 L62.2 279.93 L62.32 276.89 L62.44 274.27 L62.56 272.46 L62.68 271.62 L62.8 271.76 L62.92 272.81 L63.04 274.74 L63.16 277.15 L63.28 279.89 L63.4 282.67 L63.52 285.39 L63.64 287.74 L63.76 289.75 L63.88 291.32 L64 292.44 L64.12 293.27 L64.24 293.73 L64.36 293.96 L64.48 293.99 L64.6 293.96 L64.72 293.99 L64.84 294.09 L64.96 294.26 L65.08 294.48 L65.2 294.8 L65.32 295.3 L65.44 295.91 L65.56 296.47 L65.68 297.16 L65.8 297.78 L65.92 298.43 L66.04 299.03 L66.16 299.65 L66.28 300.23 L66.4 300.83 L66.52 301.34 L66.64 301.69 L66.76 302.04 L66.88 302.43 L67 302.65 L67.12 302.87 L67.24 303.08 L67.36 303.22 L67.48 303.36 L67.6 303.49 L67.72 303.6 L67.84 303.75 L67.96 303.77 L68.08 303.8 L68.2 303.92 L68.32 303.94 L68.44 304.01 L68.56 304.04 L68.68 304.08 L68.8 304.06 L68.92 304.04 L69.04 304.11 L69.16 304.12 L69.28 304.15 L69.4 304.18 L69.52 304.21 L69.64 304.18 L69.76 304.18 L69.88 304.25 L70 304.25 L70.12 304.22 L70.24 304.25 L70.36 304.23 L70.48 304.28 L70.6 304.23 L70.72 304.3 L70.84 304.3 L70.96 304.29 L71.96 304.39 L72.96 304.37 L73.96 304.37 L74.96 304.35 L75.96 304.4 L76.96 304.46 L77.96 304.48 L78.96 304.46 L79.96 304.5 L80.96 304.44 L81.96 304.43 L82.96 304.47 L83.96 304.53 L84.96 304.52 L85.96 304.52 L86.96 304.54 L87.96 304.5 L88.96 304.54 L89.96 304.54 L90.96 304.5 L91.96 304.48 L92.96 304.52 L93.96 304.49 L94.96 304.45 L95.96 304.52 L96.96 304.51 L97.96 304.5 L98.96 304.52 L99.96 304.55 L100.96 304.48 L101.96 304.47 L102.96 304.43 L103.96 304.45 L104.96 304.47 L105.96 304.53 L106.96 304.53 L107.96 304.52 L108.96 304.5 L109.96 304.51 L110.96 304.47 L111.96 304.53 L112.96 304.55 L113.96 304.56 L114.96 304.49 L115.96 304.51 L116.96 304.53 L117.96 304.52 L118.96 304.55 L119.96 304.57 L120.96 304.56 L121.96 304.57 L122.96 304.55 L123.96 304.57 L124.96 304.49 L125.96 304.52 L126.96 304.53 L127.96 304.53 L128.96 304.49 L129.96 304.44 L130.96 304.48 L131.96 304.53 L132.96 304.49 L133.96 304.46 L134.96 304.44 L135.96 304.42 L136.96 304.48 L137.96 304.55 L138.96 304.56 L139.96 304.51 L140.96 304.53 L141.96 304.46 L142.96 304.52 L143.96 304.49 L144.96 304.43 L145.96 304.48 L146.96 304.45 L147.96 304.45 L148.96 304.42 L149.96 304.45 L150.96 304.48 L151.96 304.53 L152.96 304.46 L153.96 304.52 L154.96 304.46 L155.96 304.45 L156.96 304.49 L157.96 304.47 L158.96 304.47 L159.96 304.49 L160.96 304.46 L161.96 304.52 L162.96 304.47 L163.96 304.53 L164.96 304.55 L165.96 304.53 L166.96 304.46 L167.96 304.51 L168.96 304.45 L169.96 304.47 L170.96 304.48 L171.96 304.44 L172.96 304.48 L173.96 304.52 L174.96 304.52 L175.96 304.5 L176.96 304.5 L177.96 304.51 L178.96 304.47 L179.96 304.53 L180.96 304.57 L181.96 304.57 L182.96 304.59 L183.96 304.52 L184.96 304.57 L185.96 304.48 L186.96 304.49 L187.96 304.45 L188.96 304.47 L189.96 304.51 L190.96 304.53 L191.96 304.51 L192.96 304.48 L193.96 304.45 L194.96 304.47 L195.96 304.46 L196.96 304.44 L197.96 304.5 L198.96 304.5 L199.96 304.49 L200.96 304.46 L201.96 304.5 L202.96 304.47 L203.96 304.45 L204.96 304.48 L205.96 304.52 L206.96 304.56 L207.96 304.56 L208.96 304.58 L209.96 304.59 L210.96 304.57 L211.96 304.56 L212.96 304.48 L213.96 304.45 L214.96 304.42 L215.96 304.5 L216.96 304.53 L217.96 304.53 L218.96 304.49 L219.96 304.47 L220.96 304.45 L221.96 304.49 L222.96 304.55 L223.96 304.5 L224.96 304.45 L225.96 304.43 L226.96 304.45 L227.96 304.52 L228.96 304.55 L229.96 304.52 L230.96 304.46 L231.96 304.43 L232.96 304.42 L233.96 304.49 L234.96 304.49 L235.96 304.55 L236.96 304.57 L237.96 304.57 L238.96 304.53 L239.96 304.55 L240.96 304.47 L241.96 304.43 L242.96 304.47 L243.96 304.47 L244.96 304.44 L245.96 304.42 L246.96 304.37 L247.96 304.42 L248.96 304.29 L249.96 303.87 L250.96 303.39 L251.96 303.79 L252.96 304.29 L253.96 304.42 L254.96 304.49 L255.96 304.53 L256.96 304.46 L257.96 304.42 L258.96 304.42 L259.96 304.47 L260.96 304.47 L261.96 304.42 L262.96 304.5 L263.96 304.53 L264.96 304.51 L265.96 304.45 L266.96 304.52" fill="none" stroke="#0000ff" stroke-width="1.25" stroke-linejoin="round"/>
<path d="M23.6 363.5 L24.6 363.44 L25.6 363.45 L26.6 363.48 L27.6 363.53 L28.6 363.51 L29.6 363.52 L30.6 363.47 L31.6 363.45 L32.6 363.51 L33.6 363.49 L34.6 363.44 L35.6 363.47 L36.6 363.43 L37.6 363.41 L38.6 363.43 L39.6 363.46 L40.6 363.46 L41.6 363.46 L42.6 363.39 L43.6 363.17 L44.6 362.91 L45.6 362.62 L46.6 362.87 L47.6 363.18 L48.6 363.36 L49.6 363.43 L50.6 363.4 L51.6 363.42 L52.6 363.43 L53.6 363.39 L54.6 363.3 L55.6 363.24 L56.6 362.77 L56.72 362.62 L56.84 362.52 L56.96 362.52 L57.08 362.39 L57.2 362.31 L57.32 362.3 L57.44 362.29 L57.56 362.27 L57.68 362.28 L57.8 362.23 L57.92 362.24 L58.04 362.39 L58.16 362.47 L58.28 362.44 L58.4 362.46 L58.52 362.51 L58.64 362.63 L58.76 362.62 L58.88 362.66 L59 362.72 L59.12 362.7 L59.24 362.71 L59.36 362.61 L59.48 362.52 L59.6 362.42 L59.72 362.41 L59.84 362.25 L59.96 362.19 L60.08 361.98 L60.2 361.58 L60.32 361.1 L60.44 360.2 L60.56 358.89 L60.68 356.83 L60.8 353.95 L60.92 349.93 L61.04 344.68 L61.16 338.15 L61.28 330.94 L61.4 323.41 L61.52 316.51 L61.64 311.17 L61.76 308.44 L61.88 308.87 L62 312.37 L62.12 318.05 L62.24 325.02 L62.36 332.34 L62.48 339.15 L62.6 345 L62.72 349.6 L62.84 353.11 L62.96 355.45 L63.08 357.09 L63.2 358.09 L63.32 358.65 L63.44 358.96 L63.56 359.24 L63.68 359.4 L63.8 359.61 L63.92 359.78 L64.04 360.09 L64.16 360.32 L64.28 360.54 L64.4 360.74 L64.52 361.04 L64.64 361.32 L64.76 361.56 L64.88 361.69 L65 361.88 L65.12 362.04 L65.24 362.25 L65.36 362.34 L65.48 362.49 L65.6 362.66 L65.72 362.76 L65.84 362.76 L65.96 362.79 L66.08 362.84 L66.2 362.95 L66.32 363.02 L66.44 363.06 L66.56 363.08 L66.68 363.1 L66.8 363.15 L66.92 363.19 L67.04 363.24 L67.16 363.26 L67.28 363.28 L67.4 363.31 L67.52 363.33 L67.64 363.32 L67.76 363.25 L67.88 363.29 L68 363.34 L68.12 363.31 L68.24 363.36 L68.36 363.3 L68.48 363.37 L68.6 363.34 L68.72 363.37 L68.84 363.33 L68.96 363.32 L69.08 363.32 L69.2 363.32 L69.32 363.3 L69.44 363.33 L69.56 363.41 L69.68 363.41 L70.68 363.47 L71.68 363.49 L72.68 363.51 L73.68 363.54 L74.68 363.53 L75.68 363.47 L76.68 363.44 L77.68 363.45 L78.68 363.41 L79.68 363.41 L80.68 363.49 L81.68 363.54 L82.68 363.49 L83.68 363.52 L84.68 363.54 L85.68 363.56 L86.68 363.56 L87.68 363.53 L88.68 363.46 L89.68 363.52 L90.68 363.48 L91.68 363.5 L92.68 363.48 L93.68 363.49 L94.68 363.55 L95.68 363.48 L96.68 363.49 L97.68 363.51 L98.68 363.51 L99.68 363.55 L100.68 363.51 L101.68 363.55 L102.68 363.55 L103.68 363.58 L104.68 363.49 L105.68 363.46 L106.68 363.45 L107.68 363.52 L108.68 363.45 L109.68 363.45 L110.68 363.5 L111.68 363.56 L112.68 363.49 L113.68 363.49 L114.68 363.51 L115.68 363.53 L116.68 363.54 L117.68 363.55 L118.68 363.49 L119.68 363.47 L120.68 363.43 L121.68 363.48 L122.68 363.46 L123.68 363.45 L124.68 363.53 L125.68 363.53 L126.68 363.53 L127.68 363.53 L128.68 363.53 L129.68 363.54 L130.68 363.49 L131.68 363.44 L132.68 363.42 L133.68 363.4 L134.68 363.43 L135.68 363.42 L136.68 363.41 L137.68 363.46 L138.68 363.53 L139.68 363.54 L140.68 363.49 L141.68 363.53 L142.68 363.47 L143.68 363.44 L144.68 363.45 L145.68 363.46 L146.68 363.5 L147.68 363.49 L148.68 363.52 L149.68 363.46 L150.68 363.53 L151.68 363.5 L152.68 363.54 L153.68 363.46 L154.68 363.52 L155.68 363.48 L156.68 363.53 L157.68 363.55 L158.68 363.55 L159.68 363.5 L160.68 363.44 L161.68 363.43 L162.68 363.51 L163.68 363.47 L164.68 363.5 L165.68 363.51 L166.68 363.52 L167.68 363.47 L168.68 363.44 L169.68 363.42 L170.68 363.52 L171.68 363.49 L172.68 363.52 L173.68 363.52 L174.68 363.47 L175.68 363.43 L176.68 363.41 L177.68 363.5 L178.68 363.45 L179.68 363.53 L180.68 363.5 L181.68 363.53 L182.68 363.47 L183.68 363.52 L184.68 363.48 L185.68 363.47 L186.68 363.49 L187.68 363.45 L188.68 363.44 L189.68 363.51 L190.68 363.48 L191.68 363.47 L192.68 363.52 L193.68 363.48 L194.68 363.45 L195.68 363.44 L196.68 363.46 L197.68 363.46 L198.68 363.5 L199.68 363.49 L200.68 363.54 L201.68 363.47 L202.68 363.5 L203.68 363.54 L204.68 363.49 L205.68 363.44 L206.68 363.46 L207.68 363.43 L208.68 363.46 L209.68 363.51 L210.68 363.45 L211.68 363.43 L212.68 363.46 L213.68 363.44 L214.68 363.44 L215.68 363.46 L216.68 363.43 L217.68 363.41 L218.68 363.44 L219.68 363.46 L220.68 363.53 L221.68 363.52 L222.68 363.46 L223.68 363.44 L224.68 363.5 L225.68 363.5 L226.68 363.54 L227.68 363.57 L228.68 363.58 L229.68 363.49 L230.68 363.54 L231.68 363.52 L232.68 363.47 L233.68 363.44 L234.68 363.51 L235.68 363.46 L236.68 363.42 L237.68 363.42 L238.68 363.5 L239.68 363.47 L240.68 363.49 L241.68 363.41 L241.8 363.42 L241.92 363.4 L242.04 363.38 L242.16 363.42 L242.28 363.41 L242.4 363.37 L242.52 363.45 L242.64 363.43 L242.76 363.38 L242.88 363.33 L243 363.38 L243.12 363.39 L243.24 363.33 L243.36 363.35 L243.48 363.39 L243.6 363.38 L243.72 363.33 L243.84 363.33 L243.96 363.34 L244.08 363.33 L244.2 363.26 L244.32 363.29 L244.44 363.31 L244.56 363.28 L244.68 363.25 L244.8 363.16 L244.92 363.14 L245.04 363.01 L245.16 362.91 L245.28 362.86 L245.4 362.82 L245.52 362.64 L245.64 362.5 L245.76 362.34 L245.88 362.23 L246 362.06 L246.12 361.89 L246.24 361.79 L246.36 361.64 L246.48 361.53 L246.6 361.34 L246.72 361.23 L246.84 361.05 L246.96 361.06 L247.08 360.98 L247.2 361 L247.32 361.07 L247.44 361.21 L247.56 361.31 L247.68 361.49 L247.8 361.63 L247.92 361.73 L248.04 361.94 L248.16 362.05 L248.28 362.28 L248.4 362.39 L248.52 362.48 L248.64 362.67 L248.76 362.74 L248.88 362.83 L249 362.9 L249.12 363.01 L249.24 363.01 L249.36 363.08 L249.48 363.1 L249.6 363.21 L249.72 363.18 L249.84 363.25 L249.96 363.25 L250.08 363.28 L250.2 363.32 L250.32 363.36 L250.44 363.32 L250.56 363.31 L250.68 363.3 L250.8 363.4 L250.92 363.35 L251.04 363.33 L251.16 363.37 L251.28 363.4 L251.4 363.45 L251.52 363.38 L251.64 363.37 L251.76 363.36 L251.88 363.4 L252 363.41 L252.12 363.41 L252.24 363.47 L252.36 363.48 L252.48 363.5 L252.6 363.53 L252.72 363.46 L252.84 363.51 L252.96 363.47 L253.08 363.41 L253.2 363.48 L254.2 363.43 L255.2 363.4 L256.2 363.42 L257.2 363.43 L258.2 363.51 L259.2 363.55 L260.2 363.51 L261.2 363.5 L262.2 363.54 L263.2 363.55 L264.2 363.54 L265.2 363.52 L266.2 363.46 L267.2 363.45" fill="none" stroke="#ff0000" stroke-width="1.25" stroke-linejoin="round"/>
<path d="M23.6 385.32 L24.6 385.32 L25.6 385.34 L26.6 385.37 L27.6 385.39 L28.6 385.31 L29.6 385.25 L30.6 385.32 L31.6 385.32 L32.6 385.27 L33.6 385.3 L34.6 385.27 L35.6 385.25 L36.6 385.25 L37.6 385.27 L38.6 385.3 L39.6 385.24 L40.6 385.29 L41.6 385.29 L42.6 385.25 L43.6 385.19 L44.6 385.06 L45.6 384.86 L46.6 384.99 L47.6 385.17 L48.6 385.27 L49.6 385.3 L50.6 385.25 L51.6 385.32 L52.6 385.33 L53.6 385.27 L54.6 385.26 L55.6 385.31 L56.6 385.24 L56.72 385.23 L56.84 385.3 L56.96 385.32 L57.08 385.25 L57.2 385.27 L57.32 385.24 L57.44 385.25 L57.56 385.27 L57.68 385.2 L57.8 385.18 L57.92 385.16 L58.04 385.16 L58.16 385.12 L58.28 385.12 L58.4 385.14 L58.52 385.15 L58.64 385.11 L58.76 385.15 L58.88 385.2 L59 385.18 L59.12 385.14 L59.24 385.15 L59.36 385.11 L59.48 385.05 L59.6 385.04 L59.72 384.97 L59.84 384.99 L59.96 384.91 L60.08 384.85 L60.2 384.83 L60.32 384.68 L60.44 384.44 L60.56 384.02 L60.68 383.4 L60.8 382.51 L60.92 381.31 L61.04 379.62 L61.16 377.7 L61.28 375.45 L61.4 373.14 L61.52 371.09 L61.64 369.49 L61.76 368.71 L61.88 368.89 L62 369.97 L62.12 371.72 L62.24 373.86 L62.36 376.18 L62.48 378.36 L62.6 380.18 L62.72 381.62 L62.84 382.71 L62.96 383.51 L63.08 384.11 L63.2 384.4 L63.32 384.63 L63.44 384.77 L63.56 384.91 L63.68 385.03 L63.8 384.99 L63.92 384.99 L64.04 385.1 L64.16 385.16 L64.28 385.11 L64.4 385.11 L64.52 385.13 L64.64 385.13 L64.76 385.14 L64.88 385.16 L65 385.15 L65.12 385.12 L65.24 385.11 L65.36 385.12 L65.48 385.12 L65.6 385.19 L65.72 385.23 L65.84 385.2 L65.96 385.25 L66.08 385.27 L66.2 385.24 L66.32 385.24 L66.44 385.21 L66.56 385.28 L66.68 385.27 L66.8 385.21 L66.92 385.19 L67.04 385.25 L67.16 385.24 L67.28 385.28 L67.4 385.24 L67.52 385.29 L67.64 385.31 L67.76 385.24 L67.88 385.26 L68.88 385.24 L69.88 385.29 L70.88 385.32 L71.88 385.34 L72.88 385.28 L73.88 385.24 L74.88 385.29 L75.88 385.3 L76.88 385.25 L77.88 385.24 L78.88 385.28 L79.88 385.24 L80.88 385.28 L81.88 385.26 L82.88 385.25 L83.88 385.26 L84.88 385.28 L85.88 385.32 L86.88 385.25 L87.88 385.3 L88.88 385.27 L89.88 385.26 L90.88 385.29 L91.88 385.32 L92.88 385.32 L93.88 385.36 L94.88 385.29 L95.88 385.27 L96.88 385.31 L97.88 385.27 L98.88 385.25 L99.88 385.24 L100.88 385.3 L101.88 385.34 L102.88 385.35 L103.88 385.38 L104.88 385.37 L105.88 385.31 L106.88 385.28 L107.88 385.32 L108.88 385.26 L109.88 385.29 L110.88 385.25 L111.88 385.22 L112.88 385.26 L113.88 385.24 L114.88 385.32 L115.88 385.36 L116.88 385.32 L117.88 385.27 L118.88 385.24 L119.88 385.27 L120.88 385.29 L121.88 385.28 L122.88 385.31 L123.88 385.31 L124.88 385.34 L125.88 385.27 L126.88 385.23 L127.88 385.25 L128.88 385.27 L129.88 385.26 L130.88 385.3 L131.88 385.27 L132.88 385.26 L133.88 385.28 L134.88 385.31 L135.88 385.34 L136.88 385.3 L137.88 385.3 L138.88 385.35 L139.88 385.38 L140.88 385.35 L141.88 385.28 L142.88 385.28 L143.88 385.31 L144.88 385.28 L145.88 385.23 L146.88 385.32 L147.88 385.36 L148.88 385.29 L149.88 385.29 L150.88 385.31 L151.88 385.28 L152.88 385.24 L153.88 385.3 L154.88 385.33 L155.88 385.31 L156.88 385.25 L157.88 385.26 L158.88 385.23 L159.88 385.32 L160.88 385.26 L161.88 385.25 L162.88 385.31 L163.88 385.26 L164.88 385.23 L165.88 385.21 L166.88 385.22 L167.88 385.26 L168.88 385.32 L169.88 385.27 L170.88 385.25 L171.88 385.3 L172.88 385.29 L173.88 385.28 L174.88 385.24 L175.88 385.24 L176.88 385.33 L177.88 385.27 L178.88 385.25 L179.88 385.31 L180.88 385.35 L181.88 385.37 L182.88 385.33 L183.88 385.37 L184.88 385.35 L185.88 385.3 L186.88 385.29 L187.88 385.32 L188.88 385.34 L189.88 385.28 L190.88 385.25 L191.88 385.33 L192.88 385.27 L193.88 385.32 L194.88 385.29 L195.88 385.27 L196.88 385.25 L197.88 385.27 L198.88 385.35 L199.88 385.28 L200.88 385.33 L201.88 385.29 L202.88 385.26 L203.88 385.31 L204.88 385.28 L205.88 385.25 L206.88 385.27 L207.88 385.32 L208.88 385.35 L209.88 385.34 L210.88 385.26 L211.88 385.31 L212.88 385.32 L213.88 385.36 L214.88 385.38 L215.88 385.32 L216.88 385.35 L217.88 385.36 L218.88 385.3 L219.88 385.29 L220.88 385.28 L221.88 385.27 L222.88 385.27 L223.88 385.24 L224.88 385.24 L225.88 385.32 L226.88 385.3 L227.88 385.31 L228.88 385.35 L229.88 385.36 L230.88 385.3 L231.88 385.35 L232.88 385.36 L233.88 385.39 L234.88 385.37 L235.88 385.36 L236.88 385.37 L237.88 385.3 L238.88 385.31 L239.88 385.29 L240.88 385.32 L241.88 385.26 L242.88 385.26 L243.88 385.23 L244.88 385.2 L245.88 384.9 L246.88 384.56 L247.88 384.78 L248.88 385.16 L249.88 385.22 L250.88 385.31 L251.88 385.33 L252.88 385.33 L253.88 385.33 L254.88 385.26 L255.88 385.32 L256.88 385.31 L257.88 385.3 L258.88 385.28 L259.88 385.32 L260.88 385.34 L261.88 385.37 L262.88 385.3 L263.88 385.28 L264.88 385.26 L265.88 385.23 L266.88 385.24 L267.88 385.21" fill="none" stroke="#008000" stroke-width="1.25" stroke-linejoin="round"/>
<path d="M45.8 259.65 L49.15 263 L45.8 266.35 L42.45 263Z" fill="#ff0000"/>
<path d="M57.5 256.65 L60.85 260 L57.5 263.35 L54.15 260Z" fill="#ff0000"/>
<path d="M66 252.15 L69.35 255.5 L66 258.85 L62.65 255.5Z" fill="#ff0000"/>
<path d="M46.5 295.85 L49.85 299.2 L46.5 302.55 L43.15 299.2Z" fill="#ff0000"/>
<path d="M57.2 293.15 L60.55 296.5 L57.2 299.85 L53.85 296.5Z" fill="#ff0000"/>
<path d="M66.5 289.15 L69.85 292.5 L66.5 295.85 L63.15 292.5Z" fill="#ff0000"/>
<path d="M45.5 354.85 L48.85 358.2 L45.5 361.55 L42.15 358.2Z" fill="#ff0000"/>
<path d="M45.5 377.15 L48.85 380.5 L45.5 383.85 L42.15 380.5Z" fill="#ff0000"/>
<circle cx="63.2" cy="234.5" r="3" fill="#000"/>
<circle cx="62.8" cy="269.5" r="3" fill="#000"/>
<circle cx="61.8" cy="306.8" r="3" fill="#000"/>
<circle cx="61.8" cy="365.2" r="3" fill="#000"/>
<circle cx="251.3" cy="263.6" r="3" fill="#000"/>
<circle cx="250.9" cy="299.4" r="3" fill="#000"/>
<circle cx="247.1" cy="357.1" r="3" fill="#000"/>
<circle cx="247.1" cy="380.9" r="3" fill="#000"/>
<rect x="299.5" y="218" width="244.7" height="181.5" fill="none" stroke="#222" stroke-width="1.2"/>
<line x1="299.5" y1="399.5" x2="544.2" y2="399.5" stroke="#222" stroke-width="1.6"/>
<line x1="299.5" y1="399.5" x2="299.5" y2="403" stroke="#222" stroke-width="1.2"/>
<text x="299.9" y="410.8" font-size="7.4" text-anchor="middle" font-weight="normal" fill="#333" stroke="#333" stroke-width="0.12">30</text>
<line x1="319.89" y1="399.5" x2="319.89" y2="403" stroke="#222" stroke-width="1.2"/>
<text x="320.29" y="410.8" font-size="7.4" text-anchor="middle" font-weight="normal" fill="#333" stroke="#333" stroke-width="0.12">35</text>
<line x1="340.28" y1="399.5" x2="340.28" y2="403" stroke="#222" stroke-width="1.2"/>
<text x="340.68" y="410.8" font-size="7.4" text-anchor="middle" font-weight="normal" fill="#333" stroke="#333" stroke-width="0.12">40</text>
<line x1="360.68" y1="399.5" x2="360.68" y2="403" stroke="#222" stroke-width="1.2"/>
<text x="361.07" y="410.8" font-size="7.4" text-anchor="middle" font-weight="normal" fill="#333" stroke="#333" stroke-width="0.12">45</text>
<line x1="381.07" y1="399.5" x2="381.07" y2="403" stroke="#222" stroke-width="1.2"/>
<text x="381.47" y="410.8" font-size="7.4" text-anchor="middle" font-weight="normal" fill="#333" stroke="#333" stroke-width="0.12">50</text>
<line x1="401.46" y1="399.5" x2="401.46" y2="403" stroke="#222" stroke-width="1.2"/>
<text x="401.86" y="410.8" font-size="7.4" text-anchor="middle" font-weight="normal" fill="#333" stroke="#333" stroke-width="0.12">55</text>
<line x1="421.85" y1="399.5" x2="421.85" y2="403" stroke="#222" stroke-width="1.2"/>
<text x="422.25" y="410.8" font-size="7.4" text-anchor="middle" font-weight="normal" fill="#333" stroke="#333" stroke-width="0.12">60</text>
<line x1="442.24" y1="399.5" x2="442.24" y2="403" stroke="#222" stroke-width="1.2"/>
<text x="442.64" y="410.8" font-size="7.4" text-anchor="middle" font-weight="normal" fill="#333" stroke="#333" stroke-width="0.12">65</text>
<line x1="462.63" y1="399.5" x2="462.63" y2="403" stroke="#222" stroke-width="1.2"/>
<text x="463.03" y="410.8" font-size="7.4" text-anchor="middle" font-weight="normal" fill="#333" stroke="#333" stroke-width="0.12">70</text>
<line x1="483.02" y1="399.5" x2="483.02" y2="403" stroke="#222" stroke-width="1.2"/>
<text x="483.42" y="410.8" font-size="7.4" text-anchor="middle" font-weight="normal" fill="#333" stroke="#333" stroke-width="0.12">75</text>
<line x1="503.42" y1="399.5" x2="503.42" y2="403" stroke="#222" stroke-width="1.2"/>
<text x="503.82" y="410.8" font-size="7.4" text-anchor="middle" font-weight="normal" fill="#333" stroke="#333" stroke-width="0.12">80</text>
<line x1="523.81" y1="399.5" x2="523.81" y2="403" stroke="#222" stroke-width="1.2"/>
<text x="524.21" y="410.8" font-size="7.4" text-anchor="middle" font-weight="normal" fill="#333" stroke="#333" stroke-width="0.12">85</text>
<line x1="544.2" y1="399.5" x2="544.2" y2="403" stroke="#222" stroke-width="1.2"/>
<text x="544.6" y="410.8" font-size="7.4" text-anchor="middle" font-weight="normal" fill="#333" stroke="#333" stroke-width="0.12">90</text>
<text x="305" y="233.9" font-size="14.5" text-anchor="start" font-weight="normal" stroke="#000" stroke-width="0.15">(d)</text>
<path d="M446.7 221.85 L450.05 225.2 L446.7 228.55 L443.35 225.2Z" fill="#ff0000"/>
<text x="451.8" y="227.6" font-size="8" text-anchor="start" font-weight="normal" stroke="#000" stroke-width="0.12">α</text>
<circle cx="464" cy="225.2" r="3" fill="#000"/>
<text x="469.8" y="227.6" font-size="8" text-anchor="start" font-weight="normal" stroke="#000" stroke-width="0.12">β</text>
<line x1="479.8" y1="226.3" x2="497.8" y2="226.3" stroke="#ff00ff" stroke-width="1.4"/>
<text x="499.6" y="228.9" font-size="8" text-anchor="start" font-weight="normal" letter-spacing="-0.14" text-rendering="geometricPrecision" stroke="#000" stroke-width="0.12">550 °C / 24 h</text>
<line x1="479.8" y1="236.03" x2="497.8" y2="236.03" stroke="#0000ff" stroke-width="1.4"/>
<text x="499.6" y="238.63" font-size="8" text-anchor="start" font-weight="normal" letter-spacing="-0.14" text-rendering="geometricPrecision" stroke="#000" stroke-width="0.12">550 °C / 16 h</text>
<line x1="479.8" y1="245.76" x2="497.8" y2="245.76" stroke="#ff0000" stroke-width="1.4"/>
<text x="499.6" y="248.36" font-size="8" text-anchor="start" font-weight="normal" letter-spacing="-0.14" text-rendering="geometricPrecision" stroke="#000" stroke-width="0.12">550 °C / 8 h</text>
<line x1="479.8" y1="255.49" x2="497.8" y2="255.49" stroke="#008000" stroke-width="1.4"/>
<text x="499.6" y="258.09" font-size="8" text-anchor="start" font-weight="normal" letter-spacing="-0.14" text-rendering="geometricPrecision" stroke="#000" stroke-width="0.12">550 °C / 2 h</text>
<text x="286.2" y="315.4" font-size="10.35" font-weight="bold" stroke="#000" stroke-width="0.15" text-anchor="middle" transform="rotate(-90 286.2 315.4)">Intensity (a.u.)</text>
<text x="422.5" y="426.6" font-size="10.3" text-anchor="middle" font-weight="bold" stroke="#000" stroke-width="0.15">2θ (degree)</text>
<path d="M300.3 268.63 L301.3 268.58 L302.3 268.53 L303.3 268.51 L304.3 268.58 L305.3 268.55 L306.3 268.57 L307.3 268.57 L308.3 268.61 L309.3 268.66 L310.3 268.6 L311.3 268.61 L312.3 268.64 L313.3 268.61 L314.3 268.64 L315.3 268.63 L316.3 268.57 L317.3 268.6 L318.3 268.56 L319.3 268.44 L320.3 268.29 L321.3 268.01 L322.3 267.8 L323.3 268.05 L324.3 268.33 L325.3 268.51 L326.3 268.55 L327.3 268.51 L328.3 268.49 L328.42 268.49 L328.54 268.56 L328.66 268.56 L328.78 268.49 L328.9 268.55 L329.02 268.47 L329.14 268.5 L329.26 268.49 L329.38 268.52 L329.5 268.5 L329.62 268.45 L329.74 268.47 L329.86 268.52 L329.98 268.53 L330.1 268.49 L330.22 268.44 L330.34 268.48 L330.46 268.51 L330.58 268.44 L330.7 268.49 L330.82 268.52 L330.94 268.46 L331.06 268.42 L331.18 268.44 L331.3 268.46 L331.42 268.38 L331.54 268.34 L331.66 268.32 L331.78 268.34 L331.9 268.28 L332.02 268.27 L332.14 268.24 L332.26 268.22 L332.38 268.11 L332.5 268.11 L332.62 268.05 L332.74 267.87 L332.86 267.68 L332.98 267.33 L333.1 267.01 L333.22 266.5 L333.34 265.9 L333.46 265.21 L333.58 264.37 L333.7 263.64 L333.82 262.92 L333.94 262.49 L334.06 262.51 L334.18 262.95 L334.3 263.63 L334.42 264.42 L334.54 265.15 L334.66 265.89 L334.78 266.46 L334.9 266.88 L335.02 267.28 L335.14 267.59 L335.26 267.75 L335.38 267.89 L335.5 267.95 L335.62 267.99 L335.74 268.05 L335.86 268.09 L335.98 268.11 L336.1 268.08 L336.22 268.06 L336.34 268.08 L336.46 268.14 L336.58 268.17 L336.7 268.11 L336.82 268.07 L336.94 268.07 L337.06 268.02 L337.18 268.02 L337.3 268.03 L337.42 267.92 L337.54 267.87 L337.66 267.81 L337.78 267.69 L337.9 267.48 L338.02 267.11 L338.14 266.39 L338.26 265.26 L338.38 263.38 L338.5 260.39 L338.62 256.45 L338.74 251.43 L338.86 245.89 L338.98 240.77 L339.1 237.26 L339.22 236.28 L339.34 238.12 L339.46 242.29 L339.58 247.6 L339.7 252.99 L339.82 257.56 L339.94 261.15 L340.06 263.54 L340.18 265.01 L340.3 265.8 L340.42 266.16 L340.54 266.24 L340.66 266.05 L340.78 265.71 L340.9 265.27 L341.02 264.69 L341.14 264.02 L341.26 263.28 L341.38 262.47 L341.5 261.59 L341.62 260.79 L341.74 260.08 L341.86 259.65 L341.98 259.42 L342.1 259.59 L342.22 260 L342.34 260.63 L342.46 261.49 L342.58 262.34 L342.7 263.21 L342.82 264.02 L342.94 264.85 L343.06 265.57 L343.18 266.09 L343.3 266.53 L343.42 266.9 L343.54 267.18 L343.66 267.45 L343.78 267.61 L343.9 267.71 L344.02 267.88 L344.14 267.96 L344.26 267.96 L344.38 268.08 L344.5 268.15 L344.62 268.15 L344.74 268.2 L344.86 268.27 L344.98 268.26 L345.1 268.27 L345.22 268.26 L345.34 268.3 L345.46 268.34 L345.58 268.38 L345.7 268.43 L345.82 268.36 L345.94 268.36 L346.06 268.42 L346.18 268.45 L346.3 268.45 L346.42 268.46 L346.54 268.43 L346.66 268.49 L346.78 268.48 L346.9 268.46 L347.02 268.42 L347.14 268.4 L347.26 268.48 L347.38 268.52 L347.5 268.44 L347.62 268.44 L347.74 268.47 L347.86 268.48 L347.98 268.47 L348.1 268.53 L349.1 268.52 L350.1 268.54 L351.1 268.6 L352.1 268.6 L353.1 268.58 L354.1 268.56 L355.1 268.56 L356.1 268.58 L357.1 268.62 L358.1 268.57 L359.1 268.56 L360.1 268.56 L361.1 268.56 L362.1 268.62 L363.1 268.61 L364.1 268.57 L365.1 268.56 L366.1 268.62 L367.1 268.56 L368.1 268.6 L369.1 268.54 L370.1 268.53 L371.1 268.51 L372.1 268.59 L373.1 268.55 L374.1 268.54 L375.1 268.51 L376.1 268.53 L377.1 268.59 L378.1 268.62 L379.1 268.66 L380.1 268.68 L381.1 268.64 L382.1 268.67 L383.1 268.58 L384.1 268.64 L385.1 268.61 L386.1 268.57 L387.1 268.61 L388.1 268.65 L389.1 268.61 L390.1 268.55 L391.1 268.62 L392.1 268.64 L393.1 268.63 L394.1 268.67 L395.1 268.58 L396.1 268.54 L397.1 268.52 L398.1 268.5 L399.1 268.58 L400.1 268.6 L401.1 268.55 L402.1 268.54 L403.1 268.53 L404.1 268.58 L405.1 268.61 L406.1 268.66 L407.1 268.61 L408.1 268.66 L409.1 268.62 L410.1 268.6 L411.1 268.57 L412.1 268.55 L413.1 268.63 L414.1 268.67 L415.1 268.66 L416.1 268.59 L417.1 268.56 L418.1 268.54 L419.1 268.55 L420.1 268.6 L421.1 268.55 L422.1 268.58 L423.1 268.61 L424.1 268.55 L425.1 268.57 L426.1 268.62 L427.1 268.62 L428.1 268.6 L429.1 268.65 L430.1 268.63 L431.1 268.6 L432.1 268.59 L433.1 268.65 L434.1 268.67 L435.1 268.68 L436.1 268.65 L437.1 268.58 L438.1 268.55 L439.1 268.56 L440.1 268.6 L441.1 268.54 L442.1 268.61 L443.1 268.64 L444.1 268.62 L445.1 268.55 L446.1 268.61 L447.1 268.59 L448.1 268.62 L449.1 268.62 L450.1 268.64 L451.1 268.61 L452.1 268.66 L453.1 268.68 L454.1 268.69 L455.1 268.66 L456.1 268.61 L457.1 268.59 L458.1 268.57 L459.1 268.63 L460.1 268.65 L461.1 268.66 L462.1 268.67 L463.1 268.69 L464.1 268.67 L465.1 268.61 L466.1 268.64 L467.1 268.59 L468.1 268.61 L469.1 268.56 L470.1 268.62 L471.1 268.61 L472.1 268.58 L473.1 268.64 L474.1 268.57 L475.1 268.64 L476.1 268.65 L477.1 268.58 L478.1 268.62 L479.1 268.62 L480.1 268.66 L481.1 268.64 L482.1 268.61 L483.1 268.66 L484.1 268.58 L485.1 268.62 L486.1 268.56 L487.1 268.55 L488.1 268.53 L489.1 268.61 L490.1 268.6 L491.1 268.63 L492.1 268.58 L493.1 268.62 L494.1 268.63 L495.1 268.56 L496.1 268.58 L497.1 268.62 L498.1 268.57 L499.1 268.6 L500.1 268.57 L501.1 268.57 L502.1 268.63 L503.1 268.67 L504.1 268.69 L505.1 268.64 L506.1 268.63 L507.1 268.65 L508.1 268.65 L509.1 268.62 L510.1 268.65 L511.1 268.61 L512.1 268.66 L513.1 268.62 L514.1 268.56 L515.1 268.61 L516.1 268.56 L517.1 268.59 L518.1 268.53 L519.1 268.62 L520.1 268.6 L521.1 268.61 L522.1 268.53 L523.1 268.54 L524.1 268.46 L525.1 268.22 L526.1 267.63 L527.1 267.06 L528.1 267.75 L529.1 268.26 L530.1 268.51 L531.1 268.59 L532.1 268.53 L533.1 268.55 L534.1 268.57 L535.1 268.6 L536.1 268.62 L537.1 268.59 L538.1 268.64 L539.1 268.58 L540.1 268.54 L541.1 268.61 L542.1 268.56 L543.1 268.54" fill="none" stroke="#ff00ff" stroke-width="1.25" stroke-linejoin="round"/>
<path d="M300.3 289.9 L301.3 289.88 L302.3 289.85 L303.3 289.92 L304.3 289.91 L305.3 289.93 L306.3 289.88 L307.3 289.94 L308.3 289.88 L309.3 289.94 L310.3 289.93 L311.3 289.96 L312.3 289.96 L313.3 289.94 L314.3 289.91 L315.3 289.94 L316.3 289.89 L317.3 289.82 L318.3 289.87 L319.3 289.81 L320.3 289.61 L321.3 289.38 L322.3 289.35 L323.3 289.6 L324.3 289.81 L325.3 289.9 L326.3 289.93 L327.3 289.85 L328.3 289.87 L328.42 289.86 L328.54 289.84 L328.66 289.8 L328.78 289.78 L328.9 289.81 L329.02 289.82 L329.14 289.8 L329.26 289.8 L329.38 289.82 L329.5 289.86 L329.62 289.86 L329.74 289.8 L329.86 289.86 L329.98 289.82 L330.1 289.88 L330.22 289.9 L330.34 289.81 L330.46 289.82 L330.58 289.87 L330.7 289.82 L330.82 289.81 L330.94 289.78 L331.06 289.72 L331.18 289.71 L331.3 289.69 L331.42 289.69 L331.54 289.73 L331.66 289.74 L331.78 289.78 L331.9 289.76 L332.02 289.69 L332.14 289.72 L332.26 289.67 L332.38 289.61 L332.5 289.58 L332.62 289.49 L332.74 289.35 L332.86 289.22 L332.98 289.01 L333.1 288.85 L333.22 288.54 L333.34 288.29 L333.46 287.88 L333.58 287.5 L333.7 287.22 L333.82 286.95 L333.94 286.83 L334.06 286.79 L334.18 287 L334.3 287.27 L334.42 287.59 L334.54 287.96 L334.66 288.31 L334.78 288.58 L334.9 288.83 L335.02 288.95 L335.14 289.08 L335.26 289.24 L335.38 289.42 L335.5 289.45 L335.62 289.51 L335.74 289.49 L335.86 289.53 L335.98 289.61 L336.1 289.62 L336.22 289.65 L336.34 289.56 L336.46 289.54 L336.58 289.52 L336.7 289.59 L336.82 289.52 L336.94 289.58 L337.06 289.51 L337.18 289.54 L337.3 289.48 L337.42 289.38 L337.54 289.35 L337.66 289.15 L337.78 288.9 L337.9 288.38 L338.02 287.73 L338.14 286.71 L338.26 285.14 L338.38 283.25 L338.5 280.93 L338.62 278.46 L338.74 276.18 L338.86 274.5 L338.98 273.77 L339.1 274.19 L339.22 275.63 L339.34 277.71 L339.46 280.1 L339.58 282.37 L339.7 284.43 L339.82 286.02 L339.94 287.15 L340.06 287.97 L340.18 288.38 L340.3 288.57 L340.42 288.63 L340.54 288.59 L340.66 288.52 L340.78 288.38 L340.9 288.07 L341.02 287.77 L341.14 287.41 L341.26 286.99 L341.38 286.51 L341.5 286.04 L341.62 285.52 L341.74 285.1 L341.86 284.85 L341.98 284.73 L342.1 284.86 L342.22 285.07 L342.34 285.51 L342.46 285.93 L342.58 286.38 L342.7 286.9 L342.82 287.37 L342.94 287.79 L343.06 288.2 L343.18 288.47 L343.3 288.76 L343.42 289 L343.54 289.14 L343.66 289.26 L343.78 289.4 L343.9 289.47 L344.02 289.47 L344.14 289.47 L344.26 289.49 L344.38 289.54 L344.5 289.55 L344.62 289.63 L344.74 289.65 L344.86 289.65 L344.98 289.68 L345.1 289.76 L345.22 289.72 L345.34 289.69 L345.46 289.7 L345.58 289.71 L345.7 289.79 L345.82 289.81 L345.94 289.79 L346.06 289.75 L346.18 289.72 L346.3 289.71 L346.42 289.8 L346.54 289.82 L346.66 289.77 L346.78 289.81 L346.9 289.76 L347.02 289.79 L347.14 289.79 L347.26 289.76 L347.38 289.82 L347.5 289.85 L347.62 289.85 L347.74 289.8 L347.86 289.84 L347.98 289.83 L348.1 289.86 L349.1 289.81 L350.1 289.89 L351.1 289.83 L352.1 289.82 L353.1 289.84 L354.1 289.83 L355.1 289.81 L356.1 289.87 L357.1 289.94 L358.1 289.9 L359.1 289.87 L360.1 289.9 L361.1 289.86 L362.1 289.87 L363.1 289.9 L364.1 289.89 L365.1 289.85 L366.1 289.82 L367.1 289.86 L368.1 289.94 L369.1 289.97 L370.1 289.88 L371.1 289.89 L372.1 289.89 L373.1 289.86 L374.1 289.9 L375.1 289.9 L376.1 289.93 L377.1 289.89 L378.1 289.95 L379.1 289.96 L380.1 289.93 L381.1 289.87 L382.1 289.88 L383.1 289.85 L384.1 289.89 L385.1 289.92 L386.1 289.92 L387.1 289.97 L388.1 289.88 L389.1 289.91 L390.1 289.94 L391.1 289.87 L392.1 289.86 L393.1 289.83 L394.1 289.87 L395.1 289.91 L396.1 289.89 L397.1 289.92 L398.1 289.89 L399.1 289.92 L400.1 289.88 L401.1 289.95 L402.1 289.92 L403.1 289.85 L404.1 289.82 L405.1 289.89 L406.1 289.94 L407.1 289.93 L408.1 289.88 L409.1 289.93 L410.1 289.94 L411.1 289.87 L412.1 289.87 L413.1 289.91 L414.1 289.84 L415.1 289.82 L416.1 289.84 L417.1 289.91 L418.1 289.97 L419.1 289.91 L420.1 289.95 L421.1 289.96 L422.1 289.97 L423.1 289.95 L424.1 289.98 L425.1 289.96 L426.1 289.98 L427.1 289.95 L428.1 289.89 L429.1 289.9 L430.1 289.9 L431.1 289.88 L432.1 289.87 L433.1 289.89 L434.1 289.9 L435.1 289.87 L436.1 289.86 L437.1 289.88 L438.1 289.89 L439.1 289.88 L440.1 289.91 L441.1 289.87 L442.1 289.89 L443.1 289.87 L444.1 289.92 L445.1 289.93 L446.1 289.95 L447.1 289.93 L448.1 289.88 L449.1 289.94 L450.1 289.92 L451.1 289.9 L452.1 289.87 L453.1 289.87 L454.1 289.91 L455.1 289.94 L456.1 289.92 L457.1 289.94 L458.1 289.88 L459.1 289.89 L460.1 289.88 L461.1 289.86 L462.1 289.87 L463.1 289.91 L464.1 289.93 L465.1 289.88 L466.1 289.86 L467.1 289.91 L468.1 289.92 L469.1 289.93 L470.1 289.93 L471.1 289.94 L472.1 289.89 L473.1 289.84 L474.1 289.85 L475.1 289.82 L476.1 289.92 L477.1 289.91 L478.1 289.93 L479.1 289.97 L480.1 289.97 L481.1 289.9 L482.1 289.88 L483.1 289.84 L484.1 289.91 L485.1 289.93 L486.1 289.91 L487.1 289.89 L488.1 289.87 L489.1 289.88 L490.1 289.92 L491.1 289.95 L492.1 289.97 L493.1 289.98 L494.1 289.93 L495.1 289.91 L496.1 289.88 L497.1 289.95 L498.1 289.88 L499.1 289.85 L500.1 289.85 L501.1 289.92 L502.1 289.95 L503.1 289.91 L504.1 289.94 L505.1 289.97 L506.1 289.92 L507.1 289.87 L508.1 289.92 L509.1 289.89 L510.1 289.85 L511.1 289.92 L512.1 289.9 L513.1 289.88 L514.1 289.9 L515.1 289.87 L516.1 289.82 L517.1 289.84 L518.1 289.84 L519.1 289.8 L520.1 289.81 L521.1 289.86 L522.1 289.8 L523.1 289.69 L524.1 289.26 L525.1 288.68 L526.1 289.04 L527.1 289.61 L528.1 289.81 L529.1 289.83 L530.1 289.82 L531.1 289.9 L532.1 289.94 L533.1 289.88 L534.1 289.9 L535.1 289.9 L536.1 289.88 L537.1 289.83 L538.1 289.84 L539.1 289.89 L540.1 289.9 L541.1 289.9 L542.1 289.85 L543.1 289.84" fill="none" stroke="#0000ff" stroke-width="1.25" stroke-linejoin="round"/>
<path d="M300.3 347.57 L301.3 347.57 L302.3 347.57 L303.3 347.63 L304.3 347.56 L305.3 347.64 L306.3 347.58 L307.3 347.63 L308.3 347.58 L309.3 347.59 L310.3 347.57 L311.3 347.52 L312.3 347.59 L313.3 347.62 L314.3 347.57 L315.3 347.6 L316.3 347.57 L317.3 347.61 L318.3 347.5 L319.3 347.42 L320.3 347.2 L321.3 346.9 L322.3 346.83 L323.3 347.16 L324.3 347.41 L325.3 347.49 L326.3 347.55 L327.3 347.49 L328.3 347.47 L328.42 347.52 L328.54 347.51 L328.66 347.57 L328.78 347.49 L328.9 347.49 L329.02 347.47 L329.14 347.42 L329.26 347.41 L329.38 347.41 L329.5 347.44 L329.62 347.46 L329.74 347.47 L329.86 347.46 L329.98 347.49 L330.1 347.49 L330.22 347.54 L330.34 347.46 L330.46 347.47 L330.58 347.46 L330.7 347.44 L330.82 347.49 L330.94 347.43 L331.06 347.47 L331.18 347.43 L331.3 347.4 L331.42 347.41 L331.54 347.41 L331.66 347.36 L331.78 347.31 L331.9 347.37 L332.02 347.32 L332.14 347.25 L332.26 347.26 L332.38 347.22 L332.5 347.13 L332.62 347.04 L332.74 346.99 L332.86 346.82 L332.98 346.63 L333.1 346.47 L333.22 346.16 L333.34 345.84 L333.46 345.47 L333.58 345.17 L333.7 344.86 L333.82 344.59 L333.94 344.43 L334.06 344.39 L334.18 344.58 L334.3 344.8 L334.42 345.15 L334.54 345.44 L334.66 345.78 L334.78 345.99 L334.9 346.23 L335.02 346.51 L335.14 346.67 L335.26 346.79 L335.38 346.86 L335.5 346.89 L335.62 346.88 L335.74 346.87 L335.86 346.91 L335.98 346.93 L336.1 346.86 L336.22 346.85 L336.34 346.75 L336.46 346.72 L336.58 346.61 L336.7 346.53 L336.82 346.37 L336.94 346.18 L337.06 345.79 L337.18 345.24 L337.3 344.31 L337.42 342.67 L337.54 340.18 L337.66 336.52 L337.78 331.41 L337.9 324.9 L338.02 317.32 L338.14 309.32 L338.26 302.01 L338.38 296.8 L338.5 294.94 L338.62 296.83 L338.74 302.04 L338.86 309.25 L338.98 317.21 L339.1 324.85 L339.22 331.37 L339.34 336.44 L339.46 340.04 L339.58 342.53 L339.7 344.02 L339.82 345.02 L339.94 345.58 L340.06 345.84 L340.18 345.91 L340.3 345.98 L340.42 345.88 L340.54 345.83 L340.66 345.67 L340.78 345.39 L340.9 345.21 L341.02 344.88 L341.14 344.57 L341.26 344.18 L341.38 343.76 L341.5 343.38 L341.62 342.94 L341.74 342.68 L341.86 342.42 L341.98 342.29 L342.1 342.36 L342.22 342.54 L342.34 342.84 L342.46 343.3 L342.58 343.71 L342.7 344.14 L342.82 344.59 L342.94 345.01 L343.06 345.46 L343.18 345.83 L343.3 346.13 L343.42 346.4 L343.54 346.55 L343.66 346.73 L343.78 346.81 L343.9 346.97 L344.02 347.06 L344.14 347.13 L344.26 347.12 L344.38 347.12 L344.5 347.23 L344.62 347.26 L344.74 347.29 L344.86 347.34 L344.98 347.29 L345.1 347.34 L345.22 347.35 L345.34 347.39 L345.46 347.38 L345.58 347.35 L345.7 347.43 L345.82 347.4 L345.94 347.44 L346.06 347.48 L346.18 347.43 L346.3 347.46 L346.42 347.44 L346.54 347.42 L346.66 347.41 L346.78 347.49 L346.9 347.47 L347.02 347.47 L347.14 347.48 L347.26 347.43 L347.38 347.49 L347.5 347.52 L347.62 347.56 L347.74 347.51 L347.86 347.47 L347.98 347.47 L348.1 347.52 L349.1 347.55 L350.1 347.54 L351.1 347.56 L352.1 347.52 L353.1 347.6 L354.1 347.58 L355.1 347.58 L356.1 347.62 L357.1 347.56 L358.1 347.6 L359.1 347.58 L360.1 347.62 L361.1 347.55 L362.1 347.55 L363.1 347.58 L364.1 347.59 L365.1 347.57 L366.1 347.59 L367.1 347.56 L368.1 347.57 L369.1 347.52 L370.1 347.59 L371.1 347.56 L372.1 347.62 L373.1 347.61 L374.1 347.62 L375.1 347.62 L376.1 347.56 L377.1 347.61 L378.1 347.58 L379.1 347.63 L380.1 347.65 L381.1 347.64 L382.1 347.66 L383.1 347.62 L384.1 347.63 L385.1 347.67 L386.1 347.59 L387.1 347.55 L388.1 347.56 L389.1 347.58 L390.1 347.55 L391.1 347.54 L392.1 347.61 L393.1 347.59 L394.1 347.55 L395.1 347.54 L396.1 347.58 L397.1 347.55 L398.1 347.57 L399.1 347.59 L400.1 347.59 L401.1 347.59 L402.1 347.64 L403.1 347.56 L404.1 347.63 L405.1 347.58 L406.1 347.53 L407.1 347.6 L408.1 347.61 L409.1 347.61 L410.1 347.57 L411.1 347.62 L412.1 347.58 L413.1 347.62 L414.1 347.58 L415.1 347.6 L416.1 347.62 L417.1 347.59 L418.1 347.59 L419.1 347.54 L420.1 347.59 L421.1 347.62 L422.1 347.57 L423.1 347.59 L424.1 347.62 L425.1 347.56 L426.1 347.62 L427.1 347.65 L428.1 347.57 L429.1 347.56 L430.1 347.53 L431.1 347.53 L432.1 347.52 L433.1 347.56 L434.1 347.55 L435.1 347.55 L436.1 347.57 L437.1 347.57 L438.1 347.62 L439.1 347.64 L440.1 347.57 L441.1 347.55 L442.1 347.52 L443.1 347.54 L444.1 347.52 L445.1 347.58 L446.1 347.63 L447.1 347.67 L448.1 347.6 L449.1 347.54 L450.1 347.6 L451.1 347.59 L452.1 347.65 L453.1 347.61 L454.1 347.58 L455.1 347.54 L456.1 347.62 L457.1 347.61 L458.1 347.6 L459.1 347.59 L460.1 347.63 L461.1 347.65 L462.1 347.62 L463.1 347.57 L464.1 347.57 L465.1 347.63 L466.1 347.61 L467.1 347.62 L468.1 347.62 L469.1 347.6 L470.1 347.61 L471.1 347.57 L472.1 347.59 L473.1 347.64 L474.1 347.57 L475.1 347.57 L476.1 347.63 L477.1 347.67 L478.1 347.58 L479.1 347.6 L480.1 347.62 L481.1 347.65 L482.1 347.62 L483.1 347.56 L484.1 347.56 L485.1 347.6 L486.1 347.63 L487.1 347.58 L488.1 347.6 L489.1 347.62 L490.1 347.63 L491.1 347.56 L492.1 347.57 L493.1 347.56 L494.1 347.59 L495.1 347.57 L496.1 347.54 L497.1 347.59 L498.1 347.57 L499.1 347.62 L500.1 347.58 L501.1 347.59 L502.1 347.63 L503.1 347.57 L504.1 347.61 L505.1 347.55 L506.1 347.62 L507.1 347.55 L508.1 347.6 L509.1 347.58 L510.1 347.54 L511.1 347.55 L512.1 347.57 L513.1 347.56 L514.1 347.52 L515.1 347.54 L516.1 347.52 L517.1 347.58 L518.1 347.53 L518.22 347.51 L518.34 347.48 L518.46 347.55 L518.58 347.5 L518.7 347.52 L518.82 347.54 L518.94 347.5 L519.06 347.52 L519.18 347.47 L519.3 347.42 L519.42 347.38 L519.54 347.41 L519.66 347.46 L519.78 347.41 L519.9 347.4 L520.02 347.42 L520.14 347.37 L520.26 347.31 L520.38 347.31 L520.5 347.29 L520.62 347.31 L520.74 347.3 L520.86 347.18 L520.98 347.13 L521.1 347.05 L521.22 346.91 L521.34 346.84 L521.46 346.8 L521.58 346.64 L521.7 346.51 L521.82 346.38 L521.94 346.15 L522.06 346.04 L522.18 345.79 L522.3 345.58 L522.42 345.43 L522.54 345.18 L522.66 345.01 L522.78 344.82 L522.9 344.72 L523.02 344.58 L523.14 344.53 L523.26 344.53 L523.38 344.57 L523.5 344.66 L523.62 344.8 L523.74 345.01 L523.86 345.17 L523.98 345.43 L524.1 345.62 L524.22 345.79 L524.34 345.96 L524.46 346.2 L524.58 346.31 L524.7 346.51 L524.82 346.6 L524.94 346.8 L525.06 346.88 L525.18 346.98 L525.3 347.1 L525.42 347.1 L525.54 347.12 L525.66 347.22 L525.78 347.28 L525.9 347.34 L526.02 347.33 L526.14 347.36 L526.26 347.34 L526.38 347.37 L526.5 347.38 L526.62 347.42 L526.74 347.41 L526.86 347.41 L526.98 347.46 L527.1 347.42 L527.22 347.49 L527.34 347.49 L527.46 347.46 L527.58 347.43 L527.7 347.47 L527.82 347.49 L527.94 347.53 L528.06 347.51 L528.18 347.5 L528.3 347.56 L528.42 347.52 L528.54 347.58 L528.66 347.6 L528.78 347.63 L528.9 347.64 L529.02 347.56 L529.14 347.59 L529.26 347.58 L530.26 347.54 L531.26 347.62 L532.26 347.62 L533.26 347.64 L534.26 347.62 L535.26 347.55 L536.26 347.61 L537.26 347.56 L538.26 347.55 L539.26 347.58 L540.26 347.55 L541.26 347.57 L542.26 347.61 L543.26 347.55" fill="none" stroke="#ff0000" stroke-width="1.25" stroke-linejoin="round"/>
<path d="M300.3 384.92 L301.3 384.86 L302.3 384.87 L303.3 384.9 L304.3 384.92 L305.3 384.85 L306.3 384.84 L307.3 384.92 L308.3 384.89 L309.3 384.88 L310.3 384.87 L311.3 384.9 L312.3 384.93 L313.3 384.92 L314.3 384.89 L315.3 384.89 L316.3 384.88 L317.3 384.83 L318.3 384.89 L319.3 384.87 L320.3 384.73 L321.3 384.51 L322.3 384.34 L323.3 384.58 L324.3 384.73 L325.3 384.85 L326.3 384.89 L327.3 384.93 L328.3 384.94 L329.3 384.94 L330.3 384.87 L331.3 384.88 L332.3 384.84 L332.42 384.81 L332.54 384.8 L332.66 384.84 L332.78 384.87 L332.9 384.88 L333.02 384.86 L333.14 384.79 L333.26 384.75 L333.38 384.78 L333.5 384.74 L333.62 384.74 L333.74 384.71 L333.86 384.69 L333.98 384.75 L334.1 384.71 L334.22 384.77 L334.34 384.72 L334.46 384.76 L334.58 384.71 L334.7 384.67 L334.82 384.65 L334.94 384.59 L335.06 384.6 L335.18 384.59 L335.3 384.53 L335.42 384.58 L335.54 384.54 L335.66 384.45 L335.78 384.49 L335.9 384.4 L336.02 384.32 L336.14 384.2 L336.26 384.08 L336.38 383.97 L336.5 383.72 L336.62 383.28 L336.74 382.55 L336.86 381.48 L336.98 379.99 L337.1 377.78 L337.22 374.97 L337.34 371.45 L337.46 367.32 L337.58 363.12 L337.7 359.04 L337.82 355.92 L337.94 354.17 L338.06 354.17 L338.18 355.94 L338.3 359.13 L338.42 363.06 L338.54 367.32 L338.66 371.34 L338.78 374.88 L338.9 377.73 L339.02 379.96 L339.14 381.53 L339.26 382.62 L339.38 383.31 L339.5 383.75 L339.62 384.06 L339.74 384.24 L339.86 384.32 L339.98 384.36 L340.1 384.48 L340.22 384.48 L340.34 384.47 L340.46 384.51 L340.58 384.58 L340.7 384.66 L340.82 384.67 L340.94 384.69 L341.06 384.74 L341.18 384.75 L341.3 384.73 L341.42 384.72 L341.54 384.76 L341.66 384.73 L341.78 384.7 L341.9 384.74 L342.02 384.8 L342.14 384.76 L342.26 384.79 L342.38 384.84 L342.5 384.77 L342.62 384.74 L342.74 384.77 L342.86 384.77 L342.98 384.85 L343.1 384.89 L343.22 384.85 L343.34 384.87 L343.46 384.87 L343.58 384.81 L343.7 384.88 L343.82 384.82 L343.94 384.78 L344.06 384.8 L345.06 384.78 L346.06 384.82 L347.06 384.84 L348.06 384.92 L349.06 384.89 L350.06 384.93 L351.06 384.94 L352.06 384.93 L353.06 384.88 L354.06 384.86 L355.06 384.88 L356.06 384.87 L357.06 384.9 L358.06 384.9 L359.06 384.88 L360.06 384.9 L361.06 384.96 L362.06 384.89 L363.06 384.87 L364.06 384.83 L365.06 384.81 L366.06 384.8 L367.06 384.84 L368.06 384.91 L369.06 384.93 L370.06 384.97 L371.06 384.97 L372.06 384.95 L373.06 384.93 L374.06 384.86 L375.06 384.86 L376.06 384.85 L377.06 384.89 L378.06 384.84 L379.06 384.88 L380.06 384.87 L381.06 384.88 L382.06 384.88 L383.06 384.84 L384.06 384.9 L385.06 384.93 L386.06 384.93 L387.06 384.87 L388.06 384.9 L389.06 384.94 L390.06 384.98 L391.06 384.97 L392.06 384.88 L393.06 384.93 L394.06 384.94 L395.06 384.89 L396.06 384.95 L397.06 384.96 L398.06 384.98 L399.06 384.91 L400.06 384.91 L401.06 384.89 L402.06 384.87 L403.06 384.92 L404.06 384.92 L405.06 384.89 L406.06 384.9 L407.06 384.95 L408.06 384.93 L409.06 384.97 L410.06 384.94 L411.06 384.98 L412.06 384.88 L413.06 384.89 L414.06 384.9 L415.06 384.93 L416.06 384.97 L417.06 384.95 L418.06 384.92 L419.06 384.93 L420.06 384.92 L421.06 384.93 L422.06 384.97 L423.06 384.88 L424.06 384.87 L425.06 384.93 L426.06 384.86 L427.06 384.92 L428.06 384.85 L429.06 384.89 L430.06 384.93 L431.06 384.88 L432.06 384.88 L433.06 384.86 L434.06 384.9 L435.06 384.9 L436.06 384.91 L437.06 384.89 L438.06 384.9 L439.06 384.96 L440.06 384.96 L441.06 384.98 L442.06 384.91 L443.06 384.91 L444.06 384.89 L445.06 384.88 L446.06 384.92 L447.06 384.87 L448.06 384.89 L449.06 384.93 L450.06 384.97 L451.06 384.88 L452.06 384.86 L453.06 384.88 L454.06 384.94 L455.06 384.88 L456.06 384.93 L457.06 384.9 L458.06 384.91 L459.06 384.95 L460.06 384.87 L461.06 384.87 L462.06 384.84 L463.06 384.83 L464.06 384.84 L465.06 384.89 L466.06 384.91 L467.06 384.86 L468.06 384.91 L469.06 384.91 L470.06 384.86 L471.06 384.92 L472.06 384.95 L473.06 384.89 L474.06 384.95 L475.06 384.96 L476.06 384.9 L477.06 384.84 L478.06 384.91 L479.06 384.95 L480.06 384.87 L481.06 384.92 L482.06 384.94 L483.06 384.94 L484.06 384.96 L485.06 384.99 L486.06 384.92 L487.06 384.95 L488.06 384.98 L489.06 384.91 L490.06 384.93 L491.06 384.94 L492.06 384.96 L493.06 384.94 L494.06 384.89 L495.06 384.86 L496.06 384.89 L497.06 384.85 L498.06 384.92 L499.06 384.95 L500.06 384.89 L501.06 384.92 L502.06 384.93 L503.06 384.87 L504.06 384.91 L505.06 384.94 L506.06 384.89 L507.06 384.84 L508.06 384.84 L509.06 384.9 L510.06 384.89 L511.06 384.93 L512.06 384.87 L513.06 384.83 L514.06 384.84 L515.06 384.9 L516.06 384.84 L517.06 384.8 L518.06 384.85 L518.18 384.8 L518.3 384.84 L518.42 384.79 L518.54 384.78 L518.66 384.83 L518.78 384.87 L518.9 384.84 L519.02 384.82 L519.14 384.76 L519.26 384.77 L519.38 384.75 L519.5 384.81 L519.62 384.83 L519.74 384.84 L519.86 384.81 L519.98 384.81 L520.1 384.73 L520.22 384.72 L520.34 384.69 L520.46 384.67 L520.58 384.7 L520.7 384.63 L520.82 384.6 L520.94 384.55 L521.06 384.57 L521.18 384.53 L521.3 384.45 L521.42 384.36 L521.54 384.34 L521.66 384.28 L521.78 384.14 L521.9 384.02 L522.02 383.94 L522.14 383.75 L522.26 383.6 L522.38 383.43 L522.5 383.33 L522.62 383.26 L522.74 383.09 L522.86 383 L522.98 383 L523.1 382.93 L523.22 382.9 L523.34 382.96 L523.46 383.04 L523.58 383.08 L523.7 383.13 L523.82 383.28 L523.94 383.44 L524.06 383.6 L524.18 383.72 L524.3 383.8 L524.42 383.92 L524.54 384.01 L524.66 384.12 L524.78 384.22 L524.9 384.36 L525.02 384.46 L525.14 384.55 L525.26 384.56 L525.38 384.64 L525.5 384.6 L525.62 384.69 L525.74 384.71 L525.86 384.76 L525.98 384.74 L526.1 384.81 L526.22 384.73 L526.34 384.79 L526.46 384.83 L526.58 384.8 L526.7 384.84 L526.82 384.79 L526.94 384.83 L527.06 384.82 L527.18 384.81 L527.3 384.78 L527.42 384.84 L527.54 384.86 L527.66 384.8 L527.78 384.88 L527.9 384.83 L528.02 384.82 L528.14 384.82 L528.26 384.85 L528.38 384.9 L528.5 384.93 L528.62 384.91 L528.74 384.87 L528.86 384.82 L528.98 384.79 L529.1 384.83 L529.22 384.85 L530.22 384.86 L531.22 384.93 L532.22 384.9 L533.22 384.88 L534.22 384.87 L535.22 384.84 L536.22 384.92 L537.22 384.92 L538.22 384.91 L539.22 384.89 L540.22 384.87 L541.22 384.86 L542.22 384.88 L543.22 384.88" fill="none" stroke="#008000" stroke-width="1.25" stroke-linejoin="round"/>
<path d="M322.2 260.45 L325.55 263.8 L322.2 267.15 L318.85 263.8Z" fill="#ff0000"/>
<path d="M333.8 256.85 L337.15 260.2 L333.8 263.55 L330.45 260.2Z" fill="#ff0000"/>
<path d="M342.2 253.15 L345.55 256.5 L342.2 259.85 L338.85 256.5Z" fill="#ff0000"/>
<path d="M321.7 282.15 L325.05 285.5 L321.7 288.85 L318.35 285.5Z" fill="#ff0000"/>
<path d="M334 279.85 L337.35 283.2 L334 286.55 L330.65 283.2Z" fill="#ff0000"/>
<path d="M341.8 278.15 L345.15 281.5 L341.8 284.85 L338.45 281.5Z" fill="#ff0000"/>
<path d="M322 339.45 L325.35 342.8 L322 346.15 L318.65 342.8Z" fill="#ff0000"/>
<path d="M333.8 337.65 L337.15 341 L333.8 344.35 L330.45 341Z" fill="#ff0000"/>
<path d="M342.2 336.85 L345.55 340.2 L342.2 343.55 L338.85 340.2Z" fill="#ff0000"/>
<path d="M322.1 376.65 L325.45 380 L322.1 383.35 L318.75 380Z" fill="#ff0000"/>
<circle cx="339.2" cy="232.2" r="3" fill="#000"/>
<circle cx="339" cy="270.5" r="3" fill="#000"/>
<circle cx="338.5" cy="291.5" r="3" fill="#000"/>
<circle cx="337.9" cy="349.7" r="3" fill="#000"/>
<circle cx="526.9" cy="264" r="3" fill="#000"/>
<circle cx="525.2" cy="285.3" r="3" fill="#000"/>
<circle cx="523.2" cy="339.8" r="3" fill="#000"/>
<circle cx="523.2" cy="378.9" r="3" fill="#000"/>
</svg></body></html>
